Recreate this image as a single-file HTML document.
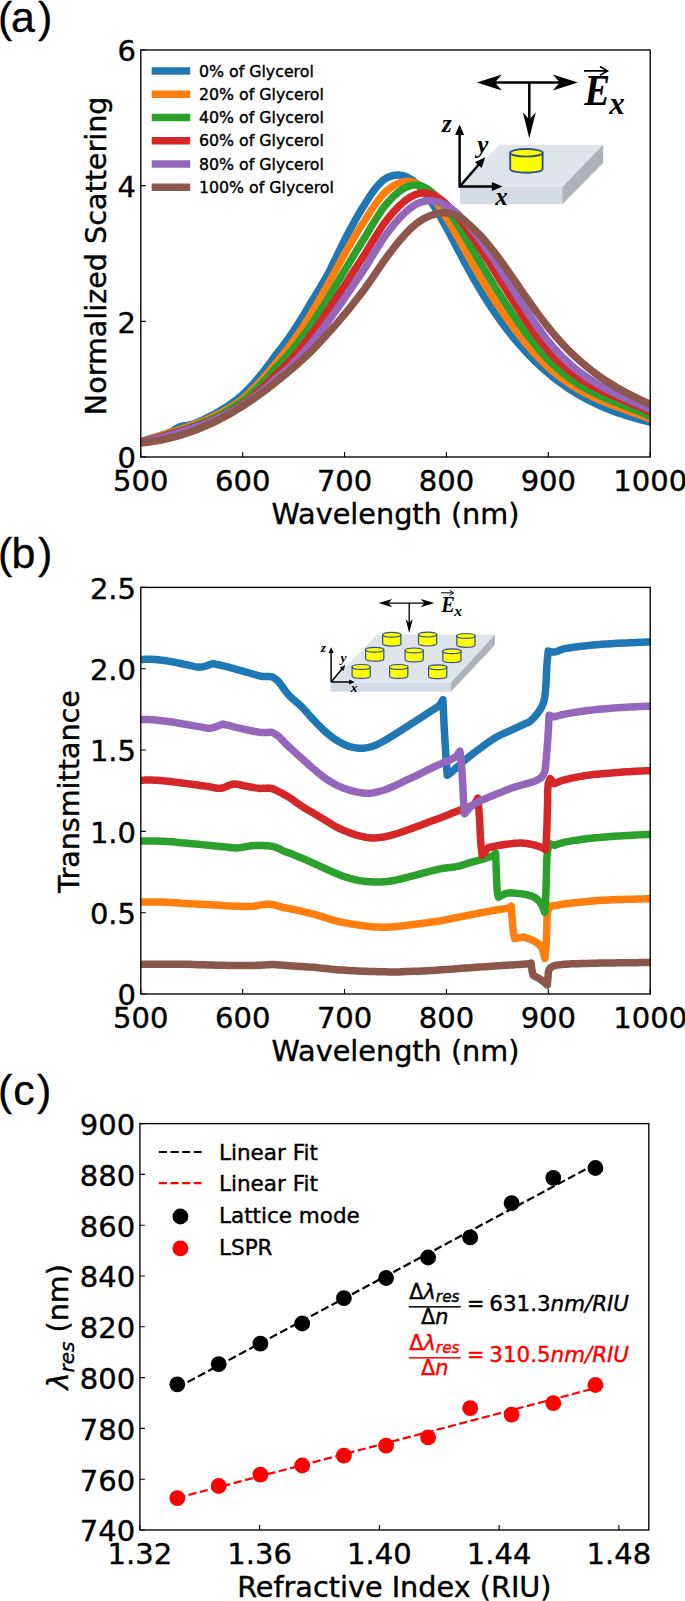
<!DOCTYPE html>
<html lang="en">
<head>
<meta charset="utf-8">
<title>Figure: scattering, transmittance and resonance shift</title>
<style>
html,body{margin:0;padding:0;background:#fff;}
body{width:685px;height:1601px;overflow:hidden;}
svg{display:block;}
.dj{font-family:"DejaVu Sans","Liberation Sans",sans-serif;stroke:#000;stroke-width:0.4px;stroke-linejoin:round;}
.rd,.rd .dj{stroke:#f00;}
.ar{font-family:"Liberation Sans",Arial,sans-serif;stroke:#000;stroke-width:0.3px;}
.bi{font-family:"Liberation Serif","DejaVu Serif",serif;font-weight:bold;font-style:italic;}
</style>
</head>
<body>
<svg width="685" height="1601" viewBox="0 0 685 1601">
<rect width="685" height="1601" fill="#fff"/>
<g id="panel-a">
<clipPath id="clipA"><rect x="140.8" y="50" width="509.4" height="407"/></clipPath>
<g clip-path="url(#clipA)" fill="none" stroke-width="7.5" stroke-linejoin="round" stroke-linecap="butt">
<path d="M134.69 443.97 L136.72 443.26 L138.76 442.56 L140.8 441.86 L142.84 441.18 L144.88 440.51 L146.91 439.85 L148.95 439.19 L150.99 438.53 L153.03 437.89 L155.06 437.24 L157.1 436.6 L159.14 435.95 L161.18 435.3 L163.21 434.65 L165.25 433.98 L167.29 433.27 L169.33 432.48 L171.36 431.56 L173.4 430.46 L175.44 429.23 L177.48 427.99 L179.51 426.93 L181.55 426.21 L183.59 425.82 L185.63 425.61 L187.66 425.4 L189.7 425.03 L191.74 424.49 L193.78 423.79 L195.82 423 L197.85 422.15 L199.89 421.26 L201.93 420.34 L203.97 419.4 L206 418.42 L208.04 417.42 L210.08 416.39 L212.12 415.32 L214.15 414.23 L216.19 413.1 L218.23 411.93 L220.27 410.73 L222.3 409.49 L224.34 408.21 L226.38 406.89 L228.42 405.53 L230.45 404.13 L232.49 402.68 L234.53 401.19 L236.57 399.66 L238.6 398.07 L240.64 396.44 L242.68 394.75 L244.72 392.74 L246.76 390.68 L248.79 388.56 L250.83 386.39 L252.87 384.16 L254.91 381.87 L256.94 379.53 L258.98 377.13 L261.02 374.66 L263.06 372.14 L265.09 369.55 L267.13 366.89 L269.17 364.17 L271.21 361.39 L273.24 358.53 L275.28 355.68 L277.32 353.2 L279.36 350.65 L281.39 348.03 L283.43 345.33 L285.47 342.55 L287.51 339.7 L289.54 336.77 L291.58 333.77 L293.62 330.73 L295.66 327.63 L297.7 324.47 L299.73 321.24 L301.77 317.96 L303.81 314.63 L305.85 311.25 L307.88 307.81 L309.92 304.34 L311.96 301.04 L314 297.72 L316.03 294.36 L318.07 290.97 L320.11 287.56 L322.15 284.11 L324.18 280.64 L326.22 277.16 L328.26 273.43 L330.3 269.28 L332.33 265.12 L334.37 260.95 L336.41 256.77 L338.45 252.6 L340.48 248.43 L342.52 244.29 L344.56 240.17 L346.6 236.21 L348.64 232.3 L350.67 228.45 L352.71 224.67 L354.75 220.97 L356.79 217.36 L358.82 213.86 L360.86 210.46 L362.9 207.2 L364.94 204.06 L366.97 200.69 L369.01 197.48 L371.05 194.43 L373.09 191.56 L375.12 188.87 L377.16 186.38 L379.2 184.09 L381.24 181.99 L383.27 180.1 L385.31 178.77 L387.35 177.65 L389.39 176.72 L391.42 176 L393.46 175.47 L395.5 175.15 L397.54 175.03 L399.58 175.11 L401.61 175.39 L403.65 175.87 L405.69 176.56 L407.73 177.45 L409.76 178.55 L411.8 179.85 L413.84 181.35 L415.88 183.06 L417.91 184.98 L419.95 187.09 L421.99 189.39 L424.03 191.86 L426.06 194.5 L428.1 197.3 L430.14 200.24 L432.18 203.31 L434.21 206.51 L436.25 209.82 L438.29 213.24 L440.33 216.75 L442.36 220.35 L444.4 224.01 L446.44 227.75 L448.48 231.53 L450.52 235.36 L452.55 239.22 L454.59 243.1 L456.63 247 L458.67 250.9 L460.7 254.79 L462.74 258.66 L464.78 262.5 L466.82 266.31 L468.85 270.06 L470.89 273.76 L472.93 277.39 L474.97 280.96 L477 284.48 L479.04 287.92 L481.08 291.31 L483.12 294.64 L485.15 297.91 L487.19 301.12 L489.23 304.28 L491.27 307.37 L493.3 310.41 L495.34 313.4 L497.38 316.32 L499.42 319.2 L501.46 322.02 L503.49 324.78 L505.53 327.49 L507.57 330.15 L509.61 332.76 L511.64 335.31 L513.68 337.82 L515.72 340.28 L517.76 342.68 L519.79 345.04 L521.83 347.35 L523.87 349.61 L525.91 351.82 L527.94 353.99 L529.98 356.11 L532.02 358.19 L534.06 360.22 L536.09 362.21 L538.13 364.16 L540.17 366.06 L542.21 367.92 L544.24 369.74 L546.28 371.51 L548.32 373.25 L550.36 374.95 L552.4 376.61 L554.43 378.23 L556.47 379.81 L558.51 381.35 L560.55 382.86 L562.58 384.33 L564.62 385.77 L566.66 387.17 L568.7 388.54 L570.73 389.87 L572.77 391.17 L574.81 392.44 L576.85 393.68 L578.88 394.88 L580.92 396.06 L582.96 397.2 L585 398.32 L587.03 399.4 L589.07 400.46 L591.11 401.49 L593.15 402.5 L595.18 403.47 L597.22 404.43 L599.26 405.35 L601.3 406.25 L603.34 407.13 L605.37 407.99 L607.41 408.82 L609.45 409.63 L611.49 410.42 L613.52 411.18 L615.56 411.93 L617.6 412.66 L619.64 413.37 L621.67 414.06 L623.71 414.73 L625.75 415.39 L627.79 416.02 L629.82 416.65 L631.86 417.25 L633.9 417.84 L635.94 418.42 L637.97 418.99 L640.01 419.54 L642.05 420.08 L644.09 420.6 L646.12 421.12 L648.16 421.63 L650.2 422.12 L652.24 422.61 L654.28 423.09 L656.31 423.56 L656.31 423.56" stroke="#1f77b4"/>
<path d="M134.69 444.51 L136.72 443.74 L138.76 442.98 L140.8 442.24 L142.84 441.52 L144.88 440.81 L146.91 440.12 L148.95 439.44 L150.99 438.76 L153.03 438.1 L155.06 437.45 L157.1 436.8 L159.14 436.16 L161.18 435.52 L163.21 434.88 L165.25 434.25 L167.29 433.61 L169.33 432.98 L171.36 432.34 L173.4 431.7 L175.44 431.05 L177.48 430.4 L179.51 429.75 L181.55 429.08 L183.59 428.4 L185.63 427.71 L187.66 427.01 L189.7 426.3 L191.74 425.57 L193.78 424.83 L195.82 424.07 L197.85 423.29 L199.89 422.49 L201.93 421.66 L203.97 420.82 L206 419.95 L208.04 419.06 L210.08 418.14 L212.12 417.2 L214.15 416.22 L216.19 415.22 L218.23 414.18 L220.27 413.11 L222.3 412.01 L224.34 410.87 L226.38 409.7 L228.42 408.49 L230.45 407.24 L232.49 405.95 L234.53 404.62 L236.57 403.24 L238.6 401.82 L240.64 400.36 L242.68 398.85 L244.72 397.06 L246.76 395.22 L248.79 393.32 L250.83 391.38 L252.87 389.38 L254.91 387.33 L256.94 385.23 L258.98 383.07 L261.02 380.85 L263.06 378.57 L265.09 376.23 L267.13 373.83 L269.17 371.36 L271.21 368.83 L273.24 366.24 L275.28 363.65 L277.32 361.39 L279.36 359.07 L281.39 356.67 L283.43 354.2 L285.47 351.66 L287.51 349.05 L289.54 346.36 L291.58 343.59 L293.62 340.78 L295.66 337.91 L297.7 334.96 L299.73 331.93 L301.77 328.84 L303.81 325.68 L305.85 322.46 L307.88 319.19 L309.92 315.86 L311.96 312.46 L314 309.02 L316.03 305.54 L318.07 302.04 L320.11 298.51 L322.15 294.96 L324.18 291.39 L326.22 287.81 L328.26 284.16 L330.3 280.36 L332.33 276.56 L334.37 272.78 L336.41 269.01 L338.45 265.26 L340.48 261.54 L342.52 257.85 L344.56 254.19 L346.6 250.54 L348.64 246.93 L350.67 243.37 L352.71 239.86 L354.75 236.42 L356.79 233.04 L358.82 229.74 L360.86 226.51 L362.9 223.36 L364.94 220.29 L366.97 216.94 L369.01 213.69 L371.05 210.54 L373.09 207.49 L375.12 204.55 L377.16 201.73 L379.2 199.04 L381.24 196.47 L383.27 194.03 L385.31 192.1 L387.35 190.32 L389.39 188.69 L391.42 187.2 L393.46 185.88 L395.5 184.72 L397.54 183.73 L399.58 182.91 L401.61 182.28 L403.65 181.82 L405.69 181.56 L407.73 181.49 L409.76 181.63 L411.8 181.96 L413.84 182.51 L415.88 183.28 L417.91 184.26 L419.95 185.48 L421.99 186.91 L424.03 188.56 L426.06 190.41 L428.1 192.45 L430.14 194.67 L432.18 197.06 L434.21 199.61 L436.25 202.31 L438.29 205.14 L440.33 208.1 L442.36 211.18 L444.4 214.37 L446.44 217.65 L448.48 221.02 L450.52 224.47 L452.55 227.97 L454.59 231.53 L456.63 235.14 L458.67 238.77 L460.7 242.43 L462.74 246.1 L464.78 249.78 L466.82 253.44 L468.85 257.08 L470.89 260.69 L472.93 264.27 L474.97 267.81 L477 271.32 L479.04 274.79 L481.08 278.22 L483.12 281.62 L485.15 284.97 L487.19 288.29 L489.23 291.57 L491.27 294.81 L493.3 298.01 L495.34 301.17 L497.38 304.29 L499.42 307.36 L501.46 310.39 L503.49 313.38 L505.53 316.33 L507.57 319.23 L509.61 322.09 L511.64 324.9 L513.68 327.66 L515.72 330.38 L517.76 333.05 L519.79 335.68 L521.83 338.25 L523.87 340.78 L525.91 343.25 L527.94 345.68 L529.98 348.06 L532.02 350.38 L534.06 352.66 L536.09 354.88 L538.13 357.05 L540.17 359.16 L542.21 361.22 L544.24 363.23 L546.28 365.18 L548.32 367.08 L550.36 368.92 L552.4 370.7 L554.43 372.43 L556.47 374.11 L558.51 375.74 L560.55 377.32 L562.58 378.85 L564.62 380.34 L566.66 381.78 L568.7 383.17 L570.73 384.53 L572.77 385.84 L574.81 387.11 L576.85 388.34 L578.88 389.54 L580.92 390.7 L582.96 391.83 L585 392.92 L587.03 393.99 L589.07 395.02 L591.11 396.02 L593.15 397 L595.18 397.95 L597.22 398.87 L599.26 399.77 L601.3 400.65 L603.34 401.51 L605.37 402.35 L607.41 403.18 L609.45 403.98 L611.49 404.77 L613.52 405.55 L615.56 406.31 L617.6 407.07 L619.64 407.81 L621.67 408.55 L623.71 409.28 L625.75 410 L627.79 410.72 L629.82 411.44 L631.86 412.15 L633.9 412.87 L635.94 413.58 L637.97 414.3 L640.01 415.02 L642.05 415.75 L644.09 416.49 L646.12 417.23 L648.16 417.99 L650.2 418.75 L652.24 419.53 L654.28 420.32 L656.31 421.12 L656.31 421.12" stroke="#ff7f0e"/>
<path d="M134.69 443.83 L136.72 443.25 L138.76 442.67 L140.8 442.1 L142.84 441.53 L144.88 440.97 L146.91 440.41 L148.95 439.86 L150.99 439.3 L153.03 438.75 L155.06 438.19 L157.1 437.64 L159.14 437.08 L161.18 436.52 L163.21 435.95 L165.25 435.38 L167.29 434.81 L169.33 434.23 L171.36 433.64 L173.4 433.04 L175.44 432.43 L177.48 431.81 L179.51 431.18 L181.55 430.54 L183.59 429.89 L185.63 429.22 L187.66 428.53 L189.7 427.83 L191.74 427.11 L193.78 426.38 L195.82 425.63 L197.85 424.85 L199.89 424.06 L201.93 423.24 L203.97 422.4 L206 421.54 L208.04 420.66 L210.08 419.75 L212.12 418.81 L214.15 417.84 L216.19 416.85 L218.23 415.83 L220.27 414.78 L222.3 413.7 L224.34 412.59 L226.38 411.44 L228.42 410.26 L230.45 409.05 L232.49 407.8 L234.53 406.51 L236.57 405.19 L238.6 403.83 L240.64 402.43 L242.68 400.99 L244.72 399.29 L246.76 397.55 L248.79 395.77 L250.83 393.95 L252.87 392.08 L254.91 390.17 L256.94 388.21 L258.98 386.2 L261.02 384.15 L263.06 382.04 L265.09 379.89 L267.13 377.68 L269.17 375.42 L271.21 373.11 L273.24 370.75 L275.28 368.39 L277.32 366.37 L279.36 364.29 L281.39 362.15 L283.43 359.95 L285.47 357.69 L287.51 355.38 L289.54 353 L291.58 350.56 L293.62 348.1 L295.66 345.61 L297.7 343.05 L299.73 340.44 L301.77 337.77 L303.81 335.04 L305.85 332.26 L307.88 329.43 L309.92 326.56 L311.96 323.53 L314 320.46 L316.03 317.35 L318.07 314.21 L320.11 311.04 L322.15 307.85 L324.18 304.63 L326.22 301.4 L328.26 298.09 L330.3 294.67 L332.33 291.24 L334.37 287.8 L336.41 284.37 L338.45 280.93 L340.48 277.49 L342.52 274.07 L344.56 270.65 L346.6 267.2 L348.64 263.78 L350.67 260.37 L352.71 256.98 L354.75 253.63 L356.79 250.3 L358.82 247 L360.86 243.75 L362.9 240.53 L364.94 237.35 L366.97 233.85 L369.01 230.39 L371.05 226.98 L373.09 223.63 L375.12 220.35 L377.16 217.12 L379.2 213.96 L381.24 210.89 L383.27 207.9 L385.31 205.39 L387.35 202.98 L389.39 200.69 L391.42 198.51 L393.46 196.47 L395.5 194.57 L397.54 192.81 L399.58 191.22 L401.61 189.78 L403.65 188.52 L405.69 187.44 L407.73 186.55 L409.76 185.86 L411.8 185.38 L413.84 185.11 L415.88 185.07 L417.91 185.25 L419.95 185.67 L421.99 186.3 L424.03 187.14 L426.06 188.18 L428.1 189.42 L430.14 190.84 L432.18 192.45 L434.21 194.23 L436.25 196.17 L438.29 198.28 L440.33 200.53 L442.36 202.93 L444.4 205.46 L446.44 208.12 L448.48 210.91 L450.52 213.8 L452.55 216.8 L454.59 219.9 L456.63 223.09 L458.67 226.34 L460.7 229.66 L462.74 233.03 L464.78 236.44 L466.82 239.87 L468.85 243.32 L470.89 246.76 L472.93 250.21 L474.97 253.65 L477 257.08 L479.04 260.5 L481.08 263.91 L483.12 267.31 L485.15 270.7 L487.19 274.07 L489.23 277.43 L491.27 280.77 L493.3 284.08 L495.34 287.38 L497.38 290.65 L499.42 293.89 L501.46 297.11 L503.49 300.3 L505.53 303.46 L507.57 306.58 L509.61 309.68 L511.64 312.73 L513.68 315.75 L515.72 318.73 L517.76 321.67 L519.79 324.57 L521.83 327.42 L523.87 330.23 L525.91 332.99 L527.94 335.7 L529.98 338.36 L532.02 340.96 L534.06 343.51 L536.09 346.01 L538.13 348.45 L540.17 350.83 L542.21 353.15 L544.24 355.4 L546.28 357.59 L548.32 359.72 L550.36 361.77 L552.4 363.76 L554.43 365.69 L556.47 367.55 L558.51 369.36 L560.55 371.1 L562.58 372.79 L564.62 374.42 L566.66 375.99 L568.7 377.52 L570.73 378.99 L572.77 380.42 L574.81 381.8 L576.85 383.13 L578.88 384.43 L580.92 385.68 L582.96 386.89 L585 388.06 L587.03 389.19 L589.07 390.3 L591.11 391.37 L593.15 392.4 L595.18 393.41 L597.22 394.4 L599.26 395.35 L601.3 396.29 L603.34 397.2 L605.37 398.09 L607.41 398.96 L609.45 399.82 L611.49 400.66 L613.52 401.49 L615.56 402.3 L617.6 403.11 L619.64 403.91 L621.67 404.7 L623.71 405.49 L625.75 406.27 L627.79 407.06 L629.82 407.85 L631.86 408.63 L633.9 409.43 L635.94 410.23 L637.97 411.04 L640.01 411.85 L642.05 412.68 L644.09 413.53 L646.12 414.38 L648.16 415.26 L650.2 416.15 L652.24 417.07 L654.28 418 L656.31 418.96 L656.31 418.96" stroke="#2ca02c"/>
<path d="M134.69 444.33 L136.72 443.71 L138.76 443.1 L140.8 442.5 L142.84 441.91 L144.88 441.33 L146.91 440.75 L148.95 440.18 L150.99 439.61 L153.03 439.05 L155.06 438.49 L157.1 437.93 L159.14 437.37 L161.18 436.82 L163.21 436.26 L165.25 435.7 L167.29 435.13 L169.33 434.57 L171.36 434 L173.4 433.42 L175.44 432.84 L177.48 432.25 L179.51 431.65 L181.55 431.04 L183.59 430.42 L185.63 429.8 L187.66 429.16 L189.7 428.51 L191.74 427.84 L193.78 427.16 L195.82 426.47 L197.85 425.75 L199.89 425.03 L201.93 424.28 L203.97 423.52 L206 422.73 L208.04 421.93 L210.08 421.1 L212.12 420.25 L214.15 419.38 L216.19 418.48 L218.23 417.56 L220.27 416.61 L222.3 415.64 L224.34 414.64 L226.38 413.61 L228.42 412.55 L230.45 411.46 L232.49 410.33 L234.53 409.18 L236.57 407.99 L238.6 406.77 L240.64 405.51 L242.68 404.22 L244.72 402.72 L246.76 401.18 L248.79 399.6 L250.83 397.99 L252.87 396.33 L254.91 394.63 L256.94 392.89 L258.98 391.11 L261.02 389.28 L263.06 387.41 L265.09 385.49 L267.13 383.53 L269.17 381.52 L271.21 379.46 L273.24 377.35 L275.28 375.25 L277.32 373.43 L279.36 371.56 L281.39 369.63 L283.43 367.66 L285.47 365.63 L287.51 363.54 L289.54 361.39 L291.58 359.19 L293.62 356.91 L295.66 354.56 L297.7 352.15 L299.73 349.69 L301.77 347.17 L303.81 344.59 L305.85 341.97 L307.88 339.3 L309.92 336.59 L311.96 333.79 L314 330.95 L316.03 328.08 L318.07 325.17 L320.11 322.23 L322.15 319.26 L324.18 316.27 L326.22 313.26 L328.26 310.23 L330.3 307.2 L332.33 304.15 L334.37 301.1 L336.41 298.03 L338.45 294.96 L340.48 291.88 L342.52 288.8 L344.56 285.73 L346.6 282.49 L348.64 279.26 L350.67 276.04 L352.71 272.84 L354.75 269.64 L356.79 266.47 L358.82 263.31 L360.86 260.18 L362.9 257.08 L364.94 254 L366.97 250.57 L369.01 247.18 L371.05 243.82 L373.09 240.51 L375.12 237.23 L377.16 234 L379.2 230.82 L381.24 227.68 L383.27 224.6 L385.31 221.95 L387.35 219.36 L389.39 216.85 L391.42 214.42 L393.46 212.08 L395.5 209.83 L397.54 207.69 L399.58 205.66 L401.61 203.75 L403.65 201.97 L405.69 200.32 L407.73 198.82 L409.76 197.47 L411.8 196.28 L413.84 195.26 L415.88 194.41 L417.91 193.74 L419.95 193.27 L421.99 192.99 L424.03 192.92 L426.06 193.06 L428.1 193.4 L430.14 193.93 L432.18 194.65 L434.21 195.55 L436.25 196.62 L438.29 197.86 L440.33 199.26 L442.36 200.81 L444.4 202.5 L446.44 204.33 L448.48 206.3 L450.52 208.38 L452.55 210.58 L454.59 212.89 L456.63 215.3 L458.67 217.81 L460.7 220.4 L462.74 223.08 L464.78 225.83 L466.82 228.64 L468.85 231.52 L470.89 234.44 L472.93 237.42 L474.97 240.44 L477 243.5 L479.04 246.6 L481.08 249.73 L483.12 252.89 L485.15 256.09 L487.19 259.3 L489.23 262.54 L491.27 265.79 L493.3 269.06 L495.34 272.34 L497.38 275.63 L499.42 278.92 L501.46 282.21 L503.49 285.5 L505.53 288.78 L507.57 292.05 L509.61 295.32 L511.64 298.56 L513.68 301.79 L515.72 304.99 L517.76 308.16 L519.79 311.31 L521.83 314.43 L523.87 317.5 L525.91 320.54 L527.94 323.54 L529.98 326.49 L532.02 329.39 L534.06 332.23 L536.09 335.02 L538.13 337.75 L540.17 340.42 L542.21 343.02 L544.24 345.55 L546.28 348.01 L548.32 350.39 L550.36 352.69 L552.4 354.91 L554.43 357.06 L556.47 359.13 L558.51 361.14 L560.55 363.07 L562.58 364.94 L564.62 366.74 L566.66 368.48 L568.7 370.16 L570.73 371.77 L572.77 373.34 L574.81 374.85 L576.85 376.3 L578.88 377.71 L580.92 379.06 L582.96 380.38 L585 381.64 L587.03 382.87 L589.07 384.06 L591.11 385.21 L593.15 386.32 L595.18 387.4 L597.22 388.45 L599.26 389.47 L601.3 390.47 L603.34 391.44 L605.37 392.39 L607.41 393.31 L609.45 394.22 L611.49 395.12 L613.52 395.99 L615.56 396.86 L617.6 397.72 L619.64 398.57 L621.67 399.41 L623.71 400.25 L625.75 401.09 L627.79 401.93 L629.82 402.78 L631.86 403.63 L633.9 404.48 L635.94 405.35 L637.97 406.23 L640.01 407.12 L642.05 408.03 L644.09 408.95 L646.12 409.9 L648.16 410.86 L650.2 411.86 L652.24 412.87 L654.28 413.92 L656.31 415 L656.31 415" stroke="#d62728"/>
<path d="M134.69 444.58 L136.72 444.04 L138.76 443.5 L140.8 442.97 L142.84 442.43 L144.88 441.9 L146.91 441.37 L148.95 440.84 L150.99 440.31 L153.03 439.78 L155.06 439.24 L157.1 438.71 L159.14 438.17 L161.18 437.62 L163.21 437.08 L165.25 436.52 L167.29 435.96 L169.33 435.4 L171.36 434.83 L173.4 434.25 L175.44 433.66 L177.48 433.06 L179.51 432.45 L181.55 431.83 L183.59 431.2 L185.63 430.56 L187.66 429.91 L189.7 429.24 L191.74 428.56 L193.78 427.86 L195.82 427.15 L197.85 426.43 L199.89 425.69 L201.93 424.93 L203.97 424.15 L206 423.35 L208.04 422.54 L210.08 421.7 L212.12 420.85 L214.15 419.97 L216.19 419.07 L218.23 418.15 L220.27 417.2 L222.3 416.24 L224.34 415.24 L226.38 414.23 L228.42 413.18 L230.45 412.11 L232.49 411.02 L234.53 409.89 L236.57 408.74 L238.6 407.56 L240.64 406.34 L242.68 405.1 L244.72 403.74 L246.76 402.35 L248.79 400.93 L250.83 399.47 L252.87 397.98 L254.91 396.45 L256.94 394.89 L258.98 393.3 L261.02 391.66 L263.06 390 L265.09 388.29 L267.13 386.54 L269.17 384.76 L271.21 382.93 L273.24 381.07 L275.28 379.21 L277.32 377.6 L279.36 375.95 L281.39 374.25 L283.43 372.51 L285.47 370.73 L287.51 368.9 L289.54 367.02 L291.58 365.1 L293.62 363.07 L295.66 360.95 L297.7 358.77 L299.73 356.55 L301.77 354.29 L303.81 351.98 L305.85 349.63 L307.88 347.24 L309.92 344.81 L311.96 342.32 L314 339.79 L316.03 337.24 L318.07 334.65 L320.11 332.03 L322.15 329.38 L324.18 326.7 L326.22 324 L328.26 321.25 L330.3 318.42 L332.33 315.58 L334.37 312.71 L336.41 309.83 L338.45 306.94 L340.48 304.03 L342.52 301.1 L344.56 298.17 L346.6 295.19 L348.64 292.2 L350.67 289.2 L352.71 286.2 L354.75 283.19 L356.79 280.19 L358.82 277.19 L360.86 274.18 L362.9 271.19 L364.94 268.19 L366.97 264.83 L369.01 261.48 L371.05 258.14 L373.09 254.81 L375.12 251.49 L377.16 248.19 L379.2 244.91 L381.24 241.66 L383.27 238.45 L385.31 235.67 L387.35 232.93 L389.39 230.26 L391.42 227.66 L393.46 225.13 L395.5 222.68 L397.54 220.32 L399.58 218.07 L401.61 215.91 L403.65 213.87 L405.69 211.95 L407.73 210.16 L409.76 208.51 L411.8 206.99 L413.84 205.63 L415.88 204.43 L417.91 203.39 L419.95 202.52 L421.99 201.83 L424.03 201.3 L426.06 200.95 L428.1 200.75 L430.14 200.72 L432.18 200.84 L434.21 201.11 L436.25 201.53 L438.29 202.1 L440.33 202.8 L442.36 203.65 L444.4 204.62 L446.44 205.73 L448.48 206.96 L450.52 208.32 L452.55 209.8 L454.59 211.39 L456.63 213.09 L458.67 214.91 L460.7 216.82 L462.74 218.84 L464.78 220.95 L466.82 223.16 L468.85 225.46 L470.89 227.85 L472.93 230.32 L474.97 232.86 L477 235.48 L479.04 238.17 L481.08 240.93 L483.12 243.75 L485.15 246.62 L487.19 249.55 L489.23 252.53 L491.27 255.55 L493.3 258.61 L495.34 261.71 L497.38 264.84 L499.42 268 L501.46 271.18 L503.49 274.38 L505.53 277.6 L507.57 280.83 L509.61 284.06 L511.64 287.3 L513.68 290.54 L515.72 293.77 L517.76 296.99 L519.79 300.19 L521.83 303.38 L523.87 306.55 L525.91 309.68 L527.94 312.79 L529.98 315.86 L532.02 318.9 L534.06 321.89 L536.09 324.83 L538.13 327.72 L540.17 330.55 L542.21 333.32 L544.24 336.03 L546.28 338.67 L548.32 341.24 L550.36 343.73 L552.4 346.14 L554.43 348.49 L556.47 350.76 L558.51 352.96 L560.55 355.09 L562.58 357.15 L564.62 359.15 L566.66 361.09 L568.7 362.97 L570.73 364.79 L572.77 366.55 L574.81 368.26 L576.85 369.91 L578.88 371.51 L580.92 373.06 L582.96 374.57 L585 376.02 L587.03 377.44 L589.07 378.81 L591.11 380.13 L593.15 381.43 L595.18 382.68 L597.22 383.9 L599.26 385.08 L601.3 386.23 L603.34 387.36 L605.37 388.45 L607.41 389.52 L609.45 390.57 L611.49 391.59 L613.52 392.59 L615.56 393.57 L617.6 394.54 L619.64 395.49 L621.67 396.43 L623.71 397.35 L625.75 398.27 L627.79 399.18 L629.82 400.08 L631.86 400.98 L633.9 401.87 L635.94 402.77 L637.97 403.66 L640.01 404.56 L642.05 405.46 L644.09 406.37 L646.12 407.29 L648.16 408.22 L650.2 409.16 L652.24 410.12 L654.28 411.09 L656.31 412.08 L656.31 412.08" stroke="#9467bd"/>
<path d="M134.69 443.29 L136.72 443.16 L138.76 443.01 L140.8 442.85 L142.84 442.65 L144.88 442.44 L146.91 442.21 L148.95 441.95 L150.99 441.67 L153.03 441.37 L155.06 441.05 L157.1 440.7 L159.14 440.34 L161.18 439.95 L163.21 439.54 L165.25 439.1 L167.29 438.65 L169.33 438.17 L171.36 437.67 L173.4 437.15 L175.44 436.61 L177.48 436.04 L179.51 435.45 L181.55 434.84 L183.59 434.21 L185.63 433.55 L187.66 432.88 L189.7 432.18 L191.74 431.46 L193.78 430.71 L195.82 429.95 L197.85 429.16 L199.89 428.35 L201.93 427.51 L203.97 426.66 L206 425.78 L208.04 424.88 L210.08 423.95 L212.12 423.01 L214.15 422.04 L216.19 421.05 L218.23 420.04 L220.27 419 L222.3 417.94 L224.34 416.86 L226.38 415.76 L228.42 414.63 L230.45 413.48 L232.49 412.31 L234.53 411.12 L236.57 409.9 L238.6 408.66 L240.64 407.4 L242.68 406.12 L244.72 404.81 L246.76 403.48 L248.79 402.12 L250.83 400.75 L252.87 399.35 L254.91 397.93 L256.94 396.48 L258.98 395.02 L261.02 393.53 L263.06 392.01 L265.09 390.48 L267.13 388.92 L269.17 387.34 L271.21 385.73 L273.24 384.11 L275.28 382.47 L277.32 380.89 L279.36 379.29 L281.39 377.66 L283.43 376.02 L285.47 374.34 L287.51 372.65 L289.54 370.93 L291.58 369.19 L293.62 367.43 L295.66 365.65 L297.7 363.85 L299.73 362.03 L301.77 360.18 L303.81 358.31 L305.85 356.41 L307.88 354.49 L309.92 352.55 L311.96 350.49 L314 348.4 L316.03 346.29 L318.07 344.15 L320.11 341.99 L322.15 339.81 L324.18 337.6 L326.22 335.37 L328.26 333.11 L330.3 330.84 L332.33 328.53 L334.37 326.21 L336.41 323.86 L338.45 321.49 L340.48 319.1 L342.52 316.68 L344.56 314.24 L346.6 311.77 L348.64 309.28 L350.67 306.77 L352.71 304.23 L354.75 301.67 L356.79 299.09 L358.82 296.48 L360.86 293.85 L362.9 291.19 L364.94 288.52 L366.97 285.63 L369.01 282.71 L371.05 279.77 L373.09 276.81 L375.12 273.83 L377.16 270.84 L379.2 267.84 L381.24 264.84 L383.27 261.86 L385.31 259.07 L387.35 256.32 L389.39 253.59 L391.42 250.9 L393.46 248.25 L395.5 245.65 L397.54 243.12 L399.58 240.65 L401.61 238.25 L403.65 235.93 L405.69 233.7 L407.73 231.56 L409.76 229.52 L411.8 227.6 L413.84 225.78 L415.88 224.09 L417.91 222.52 L419.95 221.08 L421.99 219.77 L424.03 218.59 L426.06 217.53 L428.1 216.58 L430.14 215.74 L432.18 215 L434.21 214.37 L436.25 213.82 L438.29 213.38 L440.33 213.05 L442.36 212.83 L444.4 212.74 L446.44 212.8 L448.48 213.03 L450.52 213.43 L452.55 214.02 L454.59 214.79 L456.63 215.75 L458.67 216.87 L460.7 218.15 L462.74 219.57 L464.78 221.11 L466.82 222.74 L468.85 224.46 L470.89 226.26 L472.93 228.14 L474.97 230.08 L477 232.09 L479.04 234.18 L481.08 236.35 L483.12 238.59 L485.15 240.91 L487.19 243.31 L489.23 245.78 L491.27 248.33 L493.3 250.93 L495.34 253.59 L497.38 256.31 L499.42 259.07 L501.46 261.88 L503.49 264.72 L505.53 267.59 L507.57 270.49 L509.61 273.4 L511.64 276.33 L513.68 279.27 L515.72 282.22 L517.76 285.17 L519.79 288.13 L521.83 291.08 L523.87 294.02 L525.91 296.95 L527.94 299.87 L529.98 302.77 L532.02 305.65 L534.06 308.5 L536.09 311.33 L538.13 314.12 L540.17 316.87 L542.21 319.59 L544.24 322.26 L546.28 324.88 L548.32 327.45 L550.36 329.97 L552.4 332.43 L554.43 334.84 L556.47 337.2 L558.51 339.51 L560.55 341.76 L562.58 343.97 L564.62 346.13 L566.66 348.24 L568.7 350.3 L570.73 352.32 L572.77 354.29 L574.81 356.21 L576.85 358.1 L578.88 359.94 L580.92 361.73 L582.96 363.49 L585 365.21 L587.03 366.88 L589.07 368.52 L591.11 370.13 L593.15 371.69 L595.18 373.22 L597.22 374.72 L599.26 376.18 L601.3 377.6 L603.34 379 L605.37 380.36 L607.41 381.7 L609.45 383 L611.49 384.27 L613.52 385.52 L615.56 386.74 L617.6 387.93 L619.64 389.1 L621.67 390.25 L623.71 391.37 L625.75 392.47 L627.79 393.54 L629.82 394.6 L631.86 395.63 L633.9 396.65 L635.94 397.65 L637.97 398.63 L640.01 399.59 L642.05 400.54 L644.09 401.47 L646.12 402.39 L648.16 403.3 L650.2 404.19 L652.24 405.08 L654.28 405.95 L656.31 406.81 L656.31 406.81" stroke="#8c564b"/>
</g>
<path d="M140.8 457 v-5 M242.68 457 v-5 M344.56 457 v-5 M446.44 457 v-5 M548.32 457 v-5 M650.2 457 v-5 M140.8 457 h5 M140.8 321.33 h5 M140.8 185.67 h5 M140.8 50 h5" stroke="#000" stroke-width="1.1" fill="none"/>
<rect x="140.8" y="50" width="509.4" height="407" fill="none" stroke="#000" stroke-width="1.35"/>
<text x="140.8" y="490.5" font-size="29" text-anchor="middle" class="dj">500</text>
<text x="242.68" y="490.5" font-size="29" text-anchor="middle" class="dj">600</text>
<text x="344.56" y="490.5" font-size="29" text-anchor="middle" class="dj">700</text>
<text x="446.44" y="490.5" font-size="29" text-anchor="middle" class="dj">800</text>
<text x="548.32" y="490.5" font-size="29" text-anchor="middle" class="dj">900</text>
<text x="650.2" y="490.5" font-size="29" text-anchor="middle" class="dj">1000</text>
<text x="136" y="468.4" font-size="29" text-anchor="end" class="dj">0</text>
<text x="136" y="332.73" font-size="29" text-anchor="end" class="dj">2</text>
<text x="136" y="197.07" font-size="29" text-anchor="end" class="dj">4</text>
<text x="136" y="61.4" font-size="29" text-anchor="end" class="dj">6</text>
<text x="395.5" y="524" font-size="28.7" text-anchor="middle" class="dj">Wavelength (nm)</text>
<text transform="translate(105.9 255.9) rotate(-90)" font-size="28.6" text-anchor="middle" class="dj">Normalized Scattering</text>
<line x1="151.7" x2="190.2" y1="71.1" y2="71.1" stroke="#1f77b4" stroke-width="7.5"/>
<text x="198.9" y="76.7" font-size="15.8" class="dj">0% of Glycerol</text>
<line x1="151.7" x2="190.2" y1="94.35" y2="94.35" stroke="#ff7f0e" stroke-width="7.5"/>
<text x="198.9" y="99.95" font-size="15.8" class="dj">20% of Glycerol</text>
<line x1="151.7" x2="190.2" y1="117.6" y2="117.6" stroke="#2ca02c" stroke-width="7.5"/>
<text x="198.9" y="123.2" font-size="15.8" class="dj">40% of Glycerol</text>
<line x1="151.7" x2="190.2" y1="140.85" y2="140.85" stroke="#d62728" stroke-width="7.5"/>
<text x="198.9" y="146.45" font-size="15.8" class="dj">60% of Glycerol</text>
<line x1="151.7" x2="190.2" y1="164.1" y2="164.1" stroke="#9467bd" stroke-width="7.5"/>
<text x="198.9" y="169.7" font-size="15.8" class="dj">80% of Glycerol</text>
<line x1="151.7" x2="190.2" y1="187.35" y2="187.35" stroke="#8c564b" stroke-width="7.5"/>
<text x="198.9" y="192.95" font-size="15.8" class="dj">100% of Glycerol</text>
<g id="inset-a">
<path d="M459.9 186.5 L499.4 144.7 L603.2 144.7 L562.4 186.9Z" fill="#dfe3ea"/>
<path d="M459.9 186.5 L562.4 186.9 L562.4 204.2 L459.9 204.2Z" fill="#d5dbe5"/>
<path d="M562.4 186.9 L603.2 144.7 L603.2 162.9 L562.4 204.2Z" fill="#aeb2ba"/>
<path d="M510.2 152.8 v16.1 a16.2 3.8 0 0 0 32.4 0 v-16.1 Z" fill="#ffff00" stroke="#2f5293" stroke-width="1.9"/>
<ellipse cx="526.4" cy="152.8" rx="16.2" ry="3.8" fill="#ffff00" stroke="#2f5293" stroke-width="1.9"/>
<path d="M484 82.6 H571 M529.3 82.6 V128" stroke="#000" stroke-width="2.5" fill="none"/>
<path d="M476.9 82.6 L501.9 74.6 L494.9 82.6 L501.9 90.6Z" fill="#000"/>
<path d="M577.8 82.6 L552.8 90.6 L559.8 82.6 L552.8 74.6Z" fill="#000"/>
<path d="M529.3 138.3 L522.8 112.3 L529.3 119.58 L535.8 112.3Z" fill="#000"/>
<text transform="translate(584.2 105.4) scale(0.89 1)" font-size="43.5" class="bi">E</text>
<text x="609.3" y="113.8" font-size="31" class="bi">x</text>
<path d="M584 70.9 H606 M600 66.5 L607.5 70.9 L600 75.3" stroke="#000" stroke-width="1.6" fill="none"/>
<path d="M459.6 186.6 V133 M458.4 186.6 H494 M459.6 186.6 L479.5 163.8" stroke="#000" stroke-width="2.5" fill="none"/>
<path d="M459.6 124.6 L464.1 135.1 L459.6 135.1 L455.1 135.1Z" fill="#000"/>
<path d="M502.4 186.6 L491.9 191.1 L491.9 186.6 L491.9 182.1Z" fill="#000"/>
<path d="M485.2 157.2 L481.69 168.07 L478.3 165.12 L474.91 162.16Z" fill="#000"/>
<text x="442" y="132" font-size="25" class="bi">z</text>
<text x="477.2" y="152.6" font-size="25" class="bi">y</text>
<text x="495.2" y="205" font-size="25" class="bi">x</text>
</g>
</g>
<g id="panel-b">
<clipPath id="clipB"><rect x="140.8" y="587.4" width="509.4" height="406.6"/></clipPath>
<g id="inset-b">
<path d="M330.5 682.8 L377.1 634.6 L494.9 634.6 L450.9 682.8Z" fill="#dfe3ea"/>
<path d="M330.5 682.8 L450.9 682.8 L450.9 691.8 L330.5 691.8Z" fill="#d5dbe5"/>
<path d="M450.9 682.8 L494.9 634.6 L494.9 645.1 L450.9 691.8Z" fill="#aeb2ba"/>
<path d="M382.7 634.7 v9 a9.1 2.4 0 0 0 18.2 0 v-9 Z" fill="#ffff00" stroke="#2f5293" stroke-width="1.2"/>
<ellipse cx="391.8" cy="634.7" rx="9.1" ry="2.4" fill="#ffff00" stroke="#2f5293" stroke-width="1.2"/>
<path d="M418.5 634.6 v9 a9.1 2.4 0 0 0 18.2 0 v-9 Z" fill="#ffff00" stroke="#2f5293" stroke-width="1.2"/>
<ellipse cx="427.6" cy="634.6" rx="9.1" ry="2.4" fill="#ffff00" stroke="#2f5293" stroke-width="1.2"/>
<path d="M456.8 635.9 v9 a9.1 2.4 0 0 0 18.2 0 v-9 Z" fill="#ffff00" stroke="#2f5293" stroke-width="1.2"/>
<ellipse cx="465.9" cy="635.9" rx="9.1" ry="2.4" fill="#ffff00" stroke="#2f5293" stroke-width="1.2"/>
<path d="M365.6 649.8 v9 a9.1 2.4 0 0 0 18.2 0 v-9 Z" fill="#ffff00" stroke="#2f5293" stroke-width="1.2"/>
<ellipse cx="374.7" cy="649.8" rx="9.1" ry="2.4" fill="#ffff00" stroke="#2f5293" stroke-width="1.2"/>
<path d="M405.1 650.4 v9 a9.1 2.4 0 0 0 18.2 0 v-9 Z" fill="#ffff00" stroke="#2f5293" stroke-width="1.2"/>
<ellipse cx="414.2" cy="650.4" rx="9.1" ry="2.4" fill="#ffff00" stroke="#2f5293" stroke-width="1.2"/>
<path d="M442.8 651.2 v9 a9.1 2.4 0 0 0 18.2 0 v-9 Z" fill="#ffff00" stroke="#2f5293" stroke-width="1.2"/>
<ellipse cx="451.9" cy="651.2" rx="9.1" ry="2.4" fill="#ffff00" stroke="#2f5293" stroke-width="1.2"/>
<path d="M352.1 666.9 v9 a9.1 2.4 0 0 0 18.2 0 v-9 Z" fill="#ffff00" stroke="#2f5293" stroke-width="1.2"/>
<ellipse cx="361.2" cy="666.9" rx="9.1" ry="2.4" fill="#ffff00" stroke="#2f5293" stroke-width="1.2"/>
<path d="M389.6 666.9 v9 a9.1 2.4 0 0 0 18.2 0 v-9 Z" fill="#ffff00" stroke="#2f5293" stroke-width="1.2"/>
<ellipse cx="398.7" cy="666.9" rx="9.1" ry="2.4" fill="#ffff00" stroke="#2f5293" stroke-width="1.2"/>
<path d="M428.6 667.2 v9 a9.1 2.4 0 0 0 18.2 0 v-9 Z" fill="#ffff00" stroke="#2f5293" stroke-width="1.2"/>
<ellipse cx="437.7" cy="667.2" rx="9.1" ry="2.4" fill="#ffff00" stroke="#2f5293" stroke-width="1.2"/>
<path d="M383 603.1 H430 M409.2 603.1 V627" stroke="#000" stroke-width="1.35" fill="none"/>
<path d="M378.7 603.1 L392.2 598.9 L388.42 603.1 L392.2 607.3Z" fill="#000"/>
<path d="M434.2 603.1 L420.7 607.3 L424.48 603.1 L420.7 598.9Z" fill="#000"/>
<path d="M409.2 633 L405.6 619 L409.2 622.92 L412.8 619Z" fill="#000"/>
<text transform="translate(441.2 612.4) scale(0.89 1)" font-size="23" class="bi">E</text>
<text x="454.3" y="615.8" font-size="15.5" class="bi">x</text>
<path d="M441 592.8 H452.5 M449.5 590.3 L453.6 592.8 L449.5 595.3" stroke="#000" stroke-width="1" fill="none"/>
<path d="M331.1 682.1 V650.5 M331.1 682.1 H351 M331.1 682.1 L342.8 668" stroke="#000" stroke-width="1.5" fill="none"/>
<path d="M331.1 647.2 L333.6 653 L331.1 653 L328.6 653Z" fill="#000"/>
<path d="M354.8 682.1 L349 684.6 L349 682.1 L349 679.6Z" fill="#000"/>
<path d="M345.3 664.9 L343.51 670.95 L341.59 669.35 L339.67 667.75Z" fill="#000"/>
<text x="320.8" y="652.2" font-size="13.5" class="bi">z</text>
<text x="340.6" y="662.3" font-size="13.5" class="bi">y</text>
<text x="350.8" y="692" font-size="13.5" class="bi">x</text>
</g>
<g clip-path="url(#clipB)" fill="none" stroke-width="7.5" stroke-linejoin="round" stroke-linecap="round">
<path d="M137.66 659.39 L138.23 659.39 L138.78 659.39 L139.32 659.39 L139.87 659.39 L140.43 659.39 L141.02 659.39 L141.65 659.39 L142.34 659.39 L143.53 659.38 L144.84 659.35 L146.25 659.32 L147.73 659.29 L149.26 659.27 L150.84 659.27 L152.43 659.31 L154.01 659.39 L155.93 659.53 L157.92 659.73 L159.95 659.96 L162.03 660.22 L164.12 660.52 L166.22 660.83 L168.31 661.16 L170.36 661.49 L172.42 661.85 L174.49 662.24 L176.57 662.66 L178.64 663.1 L180.7 663.54 L182.74 663.97 L184.74 664.38 L186.72 664.76 L188.47 665.12 L190.2 665.53 L191.91 665.94 L193.61 666.34 L195.28 666.68 L196.95 666.95 L198.61 667.09 L200.26 667.09 L201.87 666.93 L203.46 666.62 L205.04 666.2 L206.61 665.7 L208.17 665.16 L209.74 664.6 L211.3 664.07 L212.88 663.59 L214.56 663.96 L216.21 664.32 L217.86 664.68 L219.52 665.03 L221.19 665.4 L222.89 665.78 L224.63 666.19 L226.42 666.63 L228.63 667.19 L230.92 667.8 L233.27 668.45 L235.66 669.12 L238.07 669.8 L240.46 670.47 L242.81 671.13 L245.11 671.77 L247.23 672.37 L249.35 673 L251.47 673.65 L253.56 674.28 L255.62 674.87 L257.63 675.41 L259.58 675.86 L261.46 676.2 L262.87 676.39 L264.23 676.51 L265.55 676.58 L266.85 676.6 L268.12 676.61 L269.39 676.62 L270.67 676.63 L271.97 676.67 L272.7 677.18 L273.44 677.66 L274.17 678.13 L274.91 678.6 L275.64 679.1 L276.37 679.63 L277.09 680.22 L277.81 680.88 L278.71 681.84 L279.62 682.95 L280.51 684.15 L281.4 685.4 L282.27 686.68 L283.14 687.93 L283.98 689.12 L284.82 690.22 L285.47 691.05 L286.09 691.83 L286.69 692.57 L287.28 693.3 L287.89 694.03 L288.53 694.77 L289.23 695.54 L290 696.35 L291.22 697.54 L292.57 698.78 L294.03 700.05 L295.55 701.36 L297.11 702.7 L298.68 704.06 L300.21 705.45 L301.68 706.86 L303.17 708.39 L304.63 709.96 L306.09 711.58 L307.54 713.22 L308.98 714.87 L310.43 716.52 L311.89 718.13 L313.36 719.71 L314.8 721.22 L316.24 722.74 L317.68 724.25 L319.13 725.75 L320.59 727.21 L322.06 728.65 L323.54 730.04 L325.04 731.39 L326.46 732.61 L327.89 733.82 L329.34 734.99 L330.79 736.13 L332.25 737.23 L333.73 738.29 L335.22 739.3 L336.72 740.26 L338.14 741.14 L339.58 741.98 L341.02 742.8 L342.48 743.57 L343.94 744.29 L345.42 744.96 L346.9 745.57 L348.39 746.1 L349.83 746.55 L351.28 746.95 L352.73 747.3 L354.2 747.6 L355.67 747.84 L357.14 748.02 L358.61 748.14 L360.07 748.2 L361.53 748.2 L363 748.14 L364.47 748.01 L365.94 747.83 L367.41 747.6 L368.87 747.31 L370.31 746.96 L371.75 746.57 L373.24 746.09 L374.72 745.52 L376.18 744.89 L377.64 744.21 L379.1 743.48 L380.55 742.73 L381.99 741.96 L383.43 741.2 L384.91 740.4 L386.38 739.56 L387.84 738.7 L389.3 737.81 L390.75 736.91 L392.21 736 L393.66 735.1 L395.11 734.19 L396.57 733.27 L398.04 732.35 L399.5 731.42 L400.96 730.48 L402.41 729.54 L403.87 728.59 L405.33 727.65 L406.79 726.72 L408.25 725.78 L409.71 724.85 L411.17 723.92 L412.63 722.99 L414.09 722.06 L415.55 721.12 L417.01 720.18 L418.47 719.24 L419.94 718.28 L421.42 717.31 L422.91 716.33 L424.39 715.35 L425.87 714.38 L427.32 713.41 L428.75 712.46 L430.15 711.53 L431.4 710.72 L432.68 709.94 L433.97 709.18 L435.22 708.42 L436.43 707.65 L437.56 706.87 L438.59 706.07 L439.49 705.23 L440.08 704.56 L440.59 703.87 L441.03 703.17 L441.44 702.47 L441.82 701.75 L442.19 701.04 L442.58 700.33 L442.99 699.62 L443.14 703.02 L443.28 706.44 L443.42 709.87 L443.55 713.29 L443.7 716.7 L443.84 720.08 L444 723.43 L444.16 726.72 L444.32 729.71 L444.49 732.66 L444.66 735.56 L444.83 738.45 L445.01 741.32 L445.19 744.21 L445.38 747.12 L445.56 750.07 L445.76 753.18 L445.96 756.31 L446.16 759.46 L446.37 762.63 L446.58 765.8 L446.78 768.97 L446.99 772.14 L447.2 775.3 L447.78 774.87 L448.35 774.44 L448.92 774.03 L449.5 773.61 L450.07 773.18 L450.66 772.73 L451.27 772.26 L451.9 771.75 L452.74 771.04 L453.62 770.26 L454.53 769.44 L455.46 768.59 L456.39 767.73 L457.33 766.86 L458.27 766.01 L459.2 765.18 L460.11 764.38 L461.01 763.59 L461.92 762.8 L462.84 762.01 L463.75 761.22 L464.66 760.44 L465.58 759.67 L466.5 758.91 L467.4 758.16 L468.31 757.41 L469.22 756.67 L470.13 755.94 L471.05 755.21 L471.96 754.49 L472.88 753.78 L473.8 753.07 L474.7 752.37 L475.61 751.69 L476.53 751.01 L477.44 750.34 L478.35 749.67 L479.27 749.01 L480.18 748.34 L481.09 747.66 L482.01 746.99 L482.92 746.3 L483.83 745.62 L484.74 744.93 L485.65 744.25 L486.56 743.58 L487.48 742.91 L488.39 742.26 L489.3 741.63 L490.2 741 L491.11 740.37 L492.02 739.76 L492.93 739.15 L493.85 738.56 L494.77 737.99 L495.69 737.45 L496.59 736.94 L497.5 736.45 L498.41 735.99 L499.32 735.53 L500.24 735.09 L501.16 734.66 L502.07 734.23 L502.99 733.8 L503.9 733.38 L504.81 732.97 L505.73 732.57 L506.64 732.17 L507.55 731.78 L508.47 731.39 L509.38 730.99 L510.29 730.58 L511.21 730.17 L512.12 729.75 L513.03 729.33 L513.94 728.91 L514.86 728.49 L515.77 728.07 L516.68 727.65 L517.59 727.23 L518.51 726.8 L519.45 726.38 L520.39 725.95 L521.32 725.52 L522.25 725.1 L523.16 724.68 L524.04 724.27 L524.89 723.87 L525.57 723.57 L526.22 723.31 L526.84 723.06 L527.46 722.82 L528.07 722.55 L528.69 722.24 L529.33 721.86 L530 721.39 L531.17 720.41 L532.44 719.19 L533.76 717.8 L535.11 716.29 L536.42 714.71 L537.67 713.13 L538.8 711.59 L539.78 710.16 L540.45 709.11 L541.06 708.08 L541.61 707.08 L542.11 706.07 L542.57 705.05 L542.99 704 L543.38 702.91 L543.75 701.75 L544.14 700.32 L544.45 698.85 L544.71 697.32 L544.93 695.75 L545.12 694.12 L545.28 692.44 L545.45 690.7 L545.62 688.91 L545.83 686.4 L546 683.7 L546.14 680.86 L546.26 677.95 L546.37 675.02 L546.49 672.13 L546.63 669.34 L546.79 666.72 L546.95 664.63 L547.11 662.61 L547.29 660.65 L547.47 658.72 L547.65 656.81 L547.83 654.91 L548.01 653 L548.19 651.07 L548.94 651.2 L549.67 651.37 L550.4 651.55 L551.13 651.73 L551.88 651.88 L552.63 651.99 L553.42 652.04 L554.23 652.02 L555.29 651.86 L556.35 651.57 L557.44 651.18 L558.56 650.73 L559.74 650.25 L560.98 649.76 L562.3 649.32 L563.72 648.93 L566.15 648.42 L568.87 647.95 L571.8 647.5 L574.88 647.07 L578.05 646.68 L581.24 646.3 L584.39 645.95 L587.43 645.61 L590.39 645.3 L593.35 645.02 L596.32 644.77 L599.28 644.53 L602.25 644.31 L605.21 644.11 L608.18 643.91 L611.15 643.72 L614.14 643.53 L617.19 643.36 L620.26 643.2 L623.32 643.06 L626.34 642.92 L629.29 642.79 L632.14 642.66 L634.86 642.53 L636.98 642.43 L639.06 642.33 L641.09 642.23 L643.07 642.13 L644.99 642.04 L646.83 641.96 L648.6 641.88 L650.28 641.82 L651.44 641.78 L652.53 641.74 L653.58 641.71 L654.59 641.68 L655.58 641.66 L656.56 641.63 L657.56 641.61 L658.58 641.58" stroke="#1f77b4"/>
<path d="M137.66 901.94 L138.23 901.94 L138.78 901.94 L139.32 901.94 L139.87 901.94 L140.43 901.94 L141.02 901.94 L141.65 901.94 L142.34 901.94 L143.53 901.94 L144.84 901.93 L146.24 901.93 L147.72 901.92 L149.26 901.92 L150.83 901.92 L152.43 901.92 L154.01 901.94 L155.93 901.97 L157.91 902.01 L159.95 902.05 L162.02 902.1 L164.11 902.16 L166.21 902.23 L168.3 902.31 L170.36 902.41 L172.39 902.52 L174.39 902.66 L176.37 902.8 L178.36 902.96 L180.37 903.12 L182.42 903.28 L184.53 903.43 L186.72 903.58 L189.44 903.73 L192.26 903.88 L195.17 904.02 L198.13 904.16 L201.13 904.3 L204.14 904.44 L207.13 904.59 L210.07 904.74 L213.01 904.92 L215.97 905.11 L218.95 905.31 L221.91 905.51 L224.86 905.7 L227.77 905.87 L230.63 906.03 L233.43 906.15 L235.9 906.24 L238.35 906.34 L240.79 906.43 L243.18 906.5 L245.53 906.54 L247.81 906.55 L250.01 906.49 L252.12 906.38 L253.73 906.22 L255.28 905.99 L256.79 905.72 L258.26 905.43 L259.69 905.14 L261.08 904.88 L262.45 904.66 L263.8 904.51 L264.87 904.43 L265.9 904.36 L266.89 904.31 L267.87 904.28 L268.84 904.28 L269.84 904.32 L270.88 904.39 L271.97 904.51 L273.48 904.76 L275.12 905.12 L276.84 905.57 L278.58 906.05 L280.3 906.55 L281.94 907.03 L283.46 907.45 L284.82 907.78 L285.56 907.94 L286.22 908.06 L286.84 908.17 L287.42 908.26 L288.01 908.36 L288.61 908.46 L289.27 908.58 L290 908.72 L291.24 908.97 L292.59 909.25 L294.04 909.57 L295.55 909.9 L297.1 910.24 L298.65 910.59 L300.19 910.94 L301.68 911.28 L303.14 911.62 L304.6 911.95 L306.06 912.29 L307.53 912.63 L308.99 912.98 L310.44 913.33 L311.9 913.7 L313.36 914.09 L314.82 914.49 L316.28 914.92 L317.74 915.35 L319.2 915.8 L320.66 916.25 L322.12 916.7 L323.58 917.15 L325.04 917.59 L326.5 918.04 L327.95 918.49 L329.41 918.96 L330.87 919.41 L332.33 919.87 L333.79 920.3 L335.25 920.71 L336.72 921.09 L338.17 921.44 L339.62 921.77 L341.08 922.07 L342.54 922.36 L344.01 922.64 L345.47 922.91 L346.93 923.17 L348.39 923.43 L349.85 923.69 L351.31 923.94 L352.77 924.19 L354.23 924.42 L355.69 924.65 L357.15 924.88 L358.61 925.09 L360.07 925.3 L361.53 925.5 L362.99 925.7 L364.45 925.9 L365.91 926.09 L367.37 926.26 L368.83 926.43 L370.29 926.57 L371.75 926.7 L373.21 926.81 L374.67 926.9 L376.13 926.98 L377.59 927.05 L379.05 927.1 L380.51 927.14 L381.97 927.16 L383.43 927.17 L384.89 927.16 L386.35 927.14 L387.81 927.1 L389.27 927.05 L390.73 926.98 L392.19 926.9 L393.65 926.81 L395.11 926.7 L396.57 926.57 L398.03 926.42 L399.49 926.24 L400.95 926.06 L402.41 925.87 L403.87 925.67 L405.33 925.48 L406.79 925.3 L408.25 925.13 L409.71 924.95 L411.17 924.78 L412.63 924.61 L414.09 924.44 L415.55 924.26 L417.01 924.08 L418.47 923.9 L419.93 923.7 L421.39 923.51 L422.85 923.3 L424.31 923.09 L425.77 922.89 L427.23 922.68 L428.69 922.47 L430.15 922.26 L431.61 922.06 L433.07 921.87 L434.53 921.68 L435.99 921.49 L437.46 921.3 L438.91 921.09 L440.37 920.87 L441.82 920.63 L443.25 920.37 L444.62 920.1 L445.98 919.82 L447.35 919.53 L448.74 919.23 L450.19 918.91 L451.72 918.59 L453.36 918.25 L455.89 917.73 L458.62 917.18 L461.52 916.59 L464.52 915.98 L467.59 915.36 L470.68 914.75 L473.74 914.15 L476.72 913.58 L479.71 913.01 L482.83 912.44 L486 911.87 L489.14 911.3 L492.19 910.76 L495.07 910.25 L497.73 909.78 L500.07 909.37 L501.32 909.17 L502.51 909.01 L503.63 908.86 L504.69 908.73 L505.68 908.59 L506.6 908.43 L507.46 908.22 L508.25 907.97 L508.72 907.77 L509.14 907.56 L509.52 907.33 L509.88 907.08 L510.23 906.84 L510.57 906.59 L510.92 906.34 L511.28 906.1 L511.4 907.76 L511.51 909.42 L511.62 911.08 L511.73 912.74 L511.84 914.4 L511.96 916.06 L512.08 917.74 L512.22 919.42 L512.37 921.2 L512.52 923.06 L512.68 924.95 L512.85 926.84 L513.03 928.67 L513.22 930.41 L513.41 932.01 L513.62 933.43 L513.76 934.2 L513.9 934.9 L514.04 935.55 L514.19 936.16 L514.34 936.76 L514.49 937.35 L514.64 937.94 L514.79 938.57 L523.43 936.93 L524.62 937.37 L525.82 937.79 L527.04 938.21 L528.26 938.64 L529.45 939.06 L530.61 939.51 L531.73 939.96 L532.77 940.44 L533.6 940.84 L534.4 941.24 L535.18 941.64 L535.93 942.06 L536.65 942.49 L537.34 942.94 L538 943.42 L538.61 943.94 L539.15 944.44 L539.65 944.96 L540.11 945.49 L540.55 946.04 L540.97 946.63 L541.37 947.25 L541.75 947.91 L542.12 948.61 L542.57 949.64 L542.96 950.77 L543.32 951.99 L543.65 953.26 L543.96 954.56 L544.27 955.87 L544.58 957.17 L544.92 958.42 L545.07 956.77 L545.22 955.13 L545.38 953.49 L545.54 951.85 L545.69 950.2 L545.83 948.54 L545.97 946.84 L546.09 945.11 L546.2 943.15 L546.31 941.14 L546.4 939.1 L546.48 937.04 L546.55 934.97 L546.63 932.89 L546.7 930.81 L546.79 928.76 L546.85 926.66 L546.89 924.49 L546.91 922.28 L546.94 920.09 L546.99 917.96 L547.09 915.94 L547.25 914.08 L547.49 912.41 L547.69 911.47 L547.92 910.61 L548.18 909.81 L548.46 909.06 L548.75 908.33 L549.04 907.6 L549.32 906.87 L549.59 906.1 L550.16 906.07 L550.71 906.04 L551.26 906.01 L551.81 905.98 L552.37 905.94 L552.96 905.9 L553.57 905.84 L554.23 905.77 L555.23 905.63 L556.27 905.45 L557.35 905.25 L558.49 905.03 L559.69 904.79 L560.96 904.56 L562.3 904.33 L563.72 904.11 L566.17 903.78 L568.89 903.44 L571.82 903.09 L574.9 902.75 L578.06 902.41 L581.25 902.09 L584.39 901.78 L587.43 901.5 L590.39 901.24 L593.36 901 L596.32 900.77 L599.28 900.55 L602.25 900.35 L605.21 900.17 L608.18 900 L611.15 899.84 L614.14 899.71 L617.19 899.59 L620.26 899.5 L623.32 899.42 L626.34 899.35 L629.29 899.28 L632.14 899.21 L634.86 899.13 L636.98 899.07 L639.06 899 L641.09 898.94 L643.07 898.88 L644.99 898.82 L646.83 898.76 L648.6 898.71 L650.28 898.66 L651.44 898.62 L652.53 898.59 L653.58 898.56 L654.59 898.53 L655.58 898.5 L656.56 898.48 L657.56 898.45 L658.58 898.42" stroke="#ff7f0e"/>
<path d="M137.66 840.98 L138.23 840.98 L138.78 840.98 L139.32 840.98 L139.87 840.98 L140.43 840.98 L141.02 840.98 L141.65 840.98 L142.34 840.98 L143.53 840.97 L144.84 840.97 L146.24 840.95 L147.72 840.94 L149.26 840.94 L150.83 840.94 L152.43 840.95 L154.01 840.98 L155.93 841.02 L157.91 841.08 L159.95 841.14 L162.02 841.22 L164.12 841.31 L166.22 841.42 L168.3 841.54 L170.36 841.68 L172.39 841.84 L174.39 842.02 L176.37 842.22 L178.36 842.43 L180.37 842.65 L182.42 842.88 L184.53 843.1 L186.72 843.31 L189.45 843.57 L192.32 843.83 L195.28 844.09 L198.3 844.36 L201.32 844.62 L204.32 844.89 L207.25 845.15 L210.07 845.42 L212.56 845.66 L215.07 845.91 L217.57 846.16 L220.02 846.41 L222.4 846.66 L224.67 846.89 L226.8 847.1 L228.76 847.28 L229.92 847.41 L230.97 847.54 L231.95 847.66 L232.88 847.78 L233.81 847.88 L234.77 847.96 L235.8 847.99 L236.93 847.99 L238.7 847.86 L240.59 847.6 L242.58 847.26 L244.66 846.87 L246.79 846.47 L248.95 846.11 L251.12 845.82 L253.28 845.65 L255.71 845.55 L258.24 845.49 L260.84 845.48 L263.45 845.53 L266.03 845.65 L268.54 845.86 L270.92 846.16 L273.14 846.58 L274.81 847.04 L276.43 847.61 L277.99 848.26 L279.5 848.96 L280.94 849.67 L282.31 850.35 L283.6 850.97 L284.82 851.49 L285.55 851.77 L286.21 852.01 L286.82 852.23 L287.41 852.43 L288 852.63 L288.61 852.85 L289.27 853.08 L290 853.36 L291.24 853.83 L292.6 854.36 L294.04 854.93 L295.56 855.53 L297.1 856.15 L298.66 856.78 L300.19 857.41 L301.68 858.03 L303.14 858.65 L304.61 859.28 L306.07 859.91 L307.53 860.56 L308.98 861.21 L310.44 861.86 L311.9 862.51 L313.36 863.17 L314.82 863.83 L316.28 864.5 L317.74 865.18 L319.2 865.85 L320.66 866.53 L322.11 867.21 L323.57 867.88 L325.04 868.54 L326.49 869.2 L327.95 869.86 L329.41 870.52 L330.86 871.18 L332.32 871.83 L333.78 872.46 L335.25 873.08 L336.72 873.68 L338.17 874.25 L339.62 874.82 L341.07 875.38 L342.53 875.92 L343.99 876.44 L345.46 876.95 L346.92 877.43 L348.39 877.88 L349.84 878.31 L351.3 878.72 L352.75 879.1 L354.21 879.47 L355.68 879.81 L357.14 880.13 L358.61 880.42 L360.07 880.69 L361.53 880.92 L362.98 881.12 L364.44 881.29 L365.9 881.44 L367.36 881.57 L368.83 881.68 L370.29 881.77 L371.75 881.85 L373.21 881.92 L374.67 881.97 L376.13 882.01 L377.59 882.03 L379.05 882.02 L380.51 882 L381.97 881.94 L383.43 881.85 L384.89 881.74 L386.36 881.59 L387.82 881.41 L389.28 881.21 L390.74 880.99 L392.2 880.75 L393.66 880.49 L395.11 880.22 L396.57 879.93 L398.04 879.6 L399.5 879.26 L400.96 878.9 L402.42 878.53 L403.87 878.16 L405.33 877.79 L406.79 877.42 L408.25 877.05 L409.71 876.67 L411.17 876.29 L412.63 875.91 L414.09 875.53 L415.55 875.14 L417.01 874.76 L418.47 874.38 L419.93 874 L421.39 873.62 L422.85 873.23 L424.3 872.85 L425.76 872.47 L427.22 872.09 L428.68 871.71 L430.15 871.34 L431.59 870.98 L433.02 870.61 L434.43 870.24 L435.86 869.88 L437.3 869.52 L438.76 869.18 L440.27 868.85 L441.82 868.54 L443.73 868.22 L445.71 867.95 L447.76 867.71 L449.84 867.48 L451.93 867.24 L454.01 866.98 L456.05 866.66 L458.03 866.28 L459.84 865.85 L461.62 865.36 L463.38 864.84 L465.11 864.29 L466.84 863.72 L468.57 863.16 L470.3 862.6 L472.04 862.07 L473.83 861.56 L475.66 861.05 L477.51 860.53 L479.35 860.02 L481.16 859.52 L482.9 859.03 L484.54 858.56 L486.06 858.1 L487.05 857.79 L487.98 857.49 L488.87 857.2 L489.72 856.91 L490.55 856.62 L491.37 856.34 L492.21 856.06 L493.07 855.77 L495.64 852.96 L495.72 855.36 L495.8 857.76 L495.89 860.16 L495.97 862.56 L496.05 864.95 L496.14 867.35 L496.24 869.73 L496.34 872.12 L496.43 874.53 L496.52 877.04 L496.61 879.58 L496.7 882.1 L496.81 884.54 L496.94 886.84 L497.09 888.95 L497.27 890.8 L497.39 891.76 L497.53 892.62 L497.67 893.42 L497.83 894.17 L497.98 894.89 L498.14 895.61 L498.29 896.34 L498.44 897.11 L499.51 896.58 L500.56 896.02 L501.6 895.44 L502.65 894.86 L503.71 894.32 L504.79 893.84 L505.91 893.44 L507.08 893.14 L508.44 892.94 L509.88 892.87 L511.36 892.89 L512.87 892.98 L514.38 893.12 L515.88 893.29 L517.35 893.46 L518.76 893.61 L519.99 893.72 L521.21 893.85 L522.41 893.98 L523.6 894.13 L524.76 894.31 L525.9 894.51 L527.02 894.74 L528.1 895.01 L529.05 895.27 L529.98 895.54 L530.88 895.83 L531.77 896.15 L532.64 896.5 L533.49 896.88 L534.31 897.32 L535.11 897.81 L535.93 898.38 L536.73 899.01 L537.51 899.69 L538.27 900.41 L538.99 901.17 L539.68 901.97 L540.34 902.8 L540.95 903.65 L541.54 904.61 L542.06 905.64 L542.54 906.71 L542.98 907.82 L543.4 908.94 L543.81 910.07 L544.24 911.19 L544.69 912.29 L544.81 910.8 L544.93 909.35 L545.05 907.91 L545.18 906.47 L545.3 904.99 L545.41 903.46 L545.52 901.85 L545.62 900.15 L545.74 897.59 L545.84 894.84 L545.92 891.94 L546 888.94 L546.07 885.88 L546.15 882.81 L546.23 879.76 L546.32 876.79 L546.41 873.8 L546.48 870.71 L546.55 867.59 L546.63 864.48 L546.72 861.45 L546.85 858.56 L547.03 855.87 L547.26 853.43 L547.44 852 L547.65 850.67 L547.88 849.44 L548.13 848.26 L548.38 847.11 L548.63 845.97 L548.88 844.82 L549.12 843.62 L554.23 845.3 L555.38 844.94 L556.5 844.58 L557.59 844.22 L558.69 843.85 L559.83 843.49 L561.03 843.14 L562.31 842.79 L563.72 842.45 L566.16 841.93 L568.88 841.41 L571.81 840.9 L574.89 840.4 L578.05 839.92 L581.24 839.47 L584.39 839.05 L587.43 838.66 L590.39 838.31 L593.35 837.99 L596.32 837.7 L599.28 837.44 L602.25 837.2 L605.21 836.97 L608.18 836.74 L611.15 836.52 L614.14 836.31 L617.19 836.1 L620.26 835.91 L623.32 835.73 L626.34 835.56 L629.29 835.4 L632.14 835.24 L634.86 835.1 L636.98 834.99 L639.06 834.88 L641.09 834.78 L643.07 834.69 L644.99 834.6 L646.83 834.52 L648.6 834.45 L650.28 834.39 L651.44 834.35 L652.53 834.31 L653.58 834.28 L654.59 834.25 L655.58 834.23 L656.56 834.2 L657.56 834.18 L658.58 834.15" stroke="#2ca02c"/>
<path d="M137.66 780.15 L138.23 780.15 L138.78 780.15 L139.32 780.15 L139.87 780.15 L140.43 780.15 L141.02 780.15 L141.65 780.15 L142.34 780.15 L143.54 780.14 L144.86 780.12 L146.28 780.1 L147.78 780.08 L149.33 780.07 L150.9 780.07 L152.47 780.1 L154.01 780.15 L155.69 780.23 L157.38 780.33 L159.09 780.46 L160.82 780.6 L162.57 780.76 L164.36 780.94 L166.17 781.12 L168.03 781.31 L170.23 781.55 L172.49 781.82 L174.79 782.1 L177.14 782.4 L179.51 782.71 L181.91 783.02 L184.31 783.34 L186.72 783.65 L189.32 783.99 L192.01 784.34 L194.74 784.7 L197.47 785.06 L200.18 785.42 L202.82 785.78 L205.35 786.12 L207.74 786.45 L209.5 786.74 L211.18 787.08 L212.8 787.43 L214.37 787.78 L215.92 788.07 L217.46 788.28 L219.01 788.37 L220.58 788.32 L222.21 788.05 L223.82 787.55 L225.44 786.91 L227.05 786.2 L228.65 785.5 L230.25 784.86 L231.84 784.38 L233.43 784.12 L234.9 784.08 L236.35 784.18 L237.79 784.4 L239.22 784.68 L240.67 785.02 L242.12 785.37 L243.6 785.7 L245.11 785.99 L246.81 786.28 L248.55 786.61 L250.32 786.95 L252.11 787.29 L253.9 787.61 L255.67 787.9 L257.42 788.14 L259.12 788.32 L260.65 788.39 L262.19 788.37 L263.72 788.3 L265.23 788.21 L266.71 788.13 L268.14 788.1 L269.51 788.15 L270.8 788.32 L271.77 788.54 L272.67 788.8 L273.52 789.11 L274.34 789.45 L275.17 789.83 L276 790.24 L276.88 790.67 L277.81 791.12 L279.14 791.78 L280.54 792.5 L282 793.28 L283.49 794.1 L285 794.96 L286.51 795.85 L288.02 796.75 L289.49 797.66 L291.02 798.65 L292.54 799.69 L294.07 800.77 L295.59 801.87 L297.11 802.97 L298.63 804.06 L300.16 805.12 L301.68 806.13 L303.14 807.06 L304.6 807.96 L306.06 808.84 L307.52 809.7 L308.98 810.56 L310.44 811.41 L311.9 812.27 L313.36 813.14 L314.82 814.01 L316.28 814.89 L317.74 815.77 L319.2 816.64 L320.66 817.52 L322.12 818.39 L323.58 819.27 L325.04 820.15 L326.49 821.03 L327.95 821.94 L329.4 822.85 L330.85 823.76 L332.31 824.65 L333.77 825.52 L335.24 826.36 L336.72 827.15 L338.16 827.88 L339.6 828.58 L341.06 829.26 L342.52 829.91 L343.98 830.53 L345.45 831.14 L346.92 831.72 L348.39 832.29 L349.84 832.83 L351.29 833.36 L352.75 833.87 L354.21 834.36 L355.67 834.82 L357.13 835.26 L358.6 835.66 L360.07 836.03 L361.52 836.37 L362.98 836.69 L364.43 836.98 L365.9 837.25 L367.36 837.48 L368.82 837.67 L370.29 837.81 L371.75 837.9 L373.21 837.93 L374.67 837.9 L376.13 837.83 L377.6 837.72 L379.06 837.57 L380.52 837.39 L381.98 837.19 L383.43 836.96 L384.9 836.71 L386.36 836.42 L387.83 836.1 L389.29 835.75 L390.75 835.37 L392.2 834.98 L393.66 834.58 L395.11 834.16 L396.58 833.72 L398.04 833.25 L399.5 832.76 L400.96 832.26 L402.42 831.74 L403.87 831.22 L405.33 830.7 L406.79 830.19 L408.25 829.68 L409.71 829.16 L411.17 828.64 L412.63 828.12 L414.09 827.59 L415.55 827.06 L417.01 826.52 L418.47 825.99 L419.93 825.44 L421.39 824.89 L422.85 824.33 L424.31 823.77 L425.77 823.21 L427.22 822.65 L428.68 822.09 L430.15 821.55 L431.59 821.02 L433.02 820.51 L434.44 820 L435.87 819.5 L437.31 818.99 L438.78 818.47 L440.28 817.92 L441.82 817.34 L443.78 816.59 L445.88 815.75 L448.06 814.87 L450.27 813.97 L452.42 813.1 L454.48 812.27 L456.37 811.54 L458.03 810.92 L458.88 810.63 L459.65 810.38 L460.36 810.17 L461.03 809.98 L461.69 809.78 L462.37 809.58 L463.08 809.34 L463.87 809.05 L465.04 808.58 L466.29 808.05 L467.6 807.48 L468.94 806.87 L470.31 806.24 L471.68 805.6 L473.05 804.98 L474.38 804.38 L477.88 798.07 L478.09 800.6 L478.3 803.12 L478.52 805.63 L478.73 808.14 L478.94 810.67 L479.15 813.21 L479.34 815.79 L479.52 818.39 L479.69 821.28 L479.83 824.27 L479.97 827.32 L480.09 830.38 L480.22 833.4 L480.35 836.33 L480.51 839.13 L480.69 841.75 L480.84 843.6 L481.01 845.34 L481.18 847.02 L481.36 848.64 L481.54 850.24 L481.73 851.83 L481.91 853.43 L482.09 855.07 L488.39 847.59 L489.85 847.29 L491.31 846.99 L492.77 846.68 L494.23 846.38 L495.69 846.08 L497.15 845.79 L498.61 845.51 L500.07 845.26 L501.53 845.01 L502.99 844.77 L504.45 844.54 L505.91 844.32 L507.37 844.12 L508.83 843.93 L510.29 843.76 L511.75 843.62 L513.21 843.49 L514.67 843.36 L516.13 843.25 L517.59 843.16 L519.06 843.09 L520.52 843.06 L521.97 843.08 L523.43 843.15 L524.92 843.29 L526.43 843.47 L527.95 843.71 L529.47 843.98 L530.96 844.28 L532.41 844.6 L533.8 844.93 L535.11 845.26 L536.1 845.51 L537.06 845.78 L537.99 846.05 L538.89 846.34 L539.75 846.63 L540.58 846.94 L541.37 847.26 L542.12 847.59 L542.65 847.86 L543.15 848.14 L543.63 848.43 L544.08 848.73 L544.52 849.03 L544.95 849.33 L545.4 849.63 L545.85 849.93 L545.97 847.46 L546.09 845 L546.22 842.55 L546.34 840.1 L546.46 837.64 L546.57 835.15 L546.68 832.63 L546.79 830.07 L546.89 827.24 L546.98 824.37 L547.06 821.45 L547.14 818.51 L547.22 815.56 L547.31 812.6 L547.39 809.65 L547.49 806.72 L547.57 803.67 L547.61 800.45 L547.64 797.16 L547.68 793.9 L547.75 790.79 L547.89 787.92 L548.1 785.41 L548.42 783.36 L548.61 782.59 L548.83 781.92 L549.06 781.32 L549.3 780.78 L549.55 780.27 L549.8 779.76 L550.05 779.24 L550.29 778.69 L554.23 783.64 L555.38 783.19 L556.49 782.74 L557.58 782.29 L558.68 781.83 L559.82 781.38 L561.02 780.94 L562.31 780.51 L563.72 780.08 L566.15 779.43 L568.87 778.77 L571.8 778.13 L574.87 777.5 L578.04 776.9 L581.23 776.33 L584.38 775.81 L587.43 775.34 L590.39 774.92 L593.35 774.56 L596.31 774.24 L599.28 773.96 L602.24 773.7 L605.21 773.45 L608.18 773.21 L611.15 772.96 L614.14 772.72 L617.19 772.48 L620.26 772.25 L623.32 772.04 L626.34 771.83 L629.29 771.64 L632.14 771.47 L634.86 771.3 L636.98 771.19 L639.06 771.08 L641.09 770.98 L643.07 770.89 L644.99 770.8 L646.83 770.73 L648.6 770.66 L650.28 770.59 L651.44 770.55 L652.53 770.52 L653.58 770.49 L654.59 770.46 L655.58 770.43 L656.56 770.41 L657.56 770.38 L658.58 770.36" stroke="#d62728"/>
<path d="M137.66 719.42 L138.23 719.41 L138.78 719.41 L139.32 719.41 L139.87 719.4 L140.43 719.4 L141.02 719.4 L141.65 719.41 L142.34 719.42 L143.53 719.44 L144.84 719.47 L146.25 719.5 L147.73 719.55 L149.26 719.61 L150.84 719.68 L152.43 719.77 L154.01 719.88 L155.93 720.04 L157.91 720.23 L159.95 720.44 L162.02 720.67 L164.12 720.92 L166.22 721.19 L168.31 721.46 L170.36 721.75 L172.42 722.06 L174.49 722.39 L176.56 722.75 L178.62 723.11 L180.68 723.48 L182.72 723.85 L184.73 724.21 L186.72 724.55 L188.54 724.86 L190.36 725.17 L192.17 725.48 L193.97 725.78 L195.73 726.08 L197.45 726.36 L199.12 726.63 L200.73 726.89 L201.98 727.12 L203.17 727.38 L204.31 727.65 L205.44 727.9 L206.56 728.11 L207.69 728.27 L208.86 728.33 L210.07 728.29 L211.59 728.07 L213.16 727.69 L214.76 727.18 L216.38 726.59 L218.02 725.95 L219.67 725.29 L221.3 724.66 L222.92 724.09 L224.8 724.56 L226.65 725.02 L228.48 725.49 L230.33 725.96 L232.19 726.43 L234.1 726.89 L236.06 727.36 L238.1 727.82 L240.72 728.42 L243.51 729.06 L246.41 729.72 L249.36 730.37 L252.29 730.98 L255.13 731.52 L257.82 731.96 L260.29 732.26 L261.92 732.39 L263.46 732.45 L264.93 732.46 L266.35 732.43 L267.75 732.38 L269.13 732.33 L270.54 732.28 L271.97 732.26 L272.7 732.68 L273.42 733.08 L274.14 733.47 L274.87 733.86 L275.59 734.28 L276.32 734.72 L277.06 735.21 L277.81 735.77 L278.82 736.61 L279.87 737.6 L280.95 738.67 L282.03 739.8 L283.1 740.93 L284.12 742.03 L285.09 743.04 L285.99 743.94 L286.54 744.48 L287.03 744.95 L287.49 745.4 L287.94 745.82 L288.39 746.25 L288.88 746.7 L289.4 747.19 L290 747.74 L291.16 748.8 L292.49 750 L293.93 751.3 L295.45 752.67 L297.03 754.08 L298.61 755.5 L300.18 756.9 L301.68 758.25 L303.14 759.57 L304.59 760.9 L306.05 762.23 L307.5 763.56 L308.96 764.89 L310.42 766.2 L311.88 767.49 L313.36 768.76 L314.8 769.98 L316.24 771.21 L317.69 772.42 L319.14 773.61 L320.6 774.79 L322.07 775.93 L323.55 777.04 L325.04 778.1 L326.47 779.08 L327.91 780.04 L329.36 780.96 L330.81 781.86 L332.28 782.72 L333.75 783.56 L335.23 784.35 L336.72 785.11 L338.15 785.8 L339.6 786.46 L341.05 787.09 L342.51 787.69 L343.97 788.25 L345.44 788.79 L346.92 789.3 L348.39 789.78 L349.85 790.23 L351.32 790.65 L352.81 791.05 L354.29 791.42 L355.77 791.77 L357.23 792.07 L358.67 792.35 L360.07 792.58 L361.27 792.77 L362.43 792.94 L363.57 793.09 L364.69 793.21 L365.82 793.3 L366.98 793.35 L368.17 793.34 L369.42 793.28 L371.05 793.13 L372.77 792.88 L374.54 792.55 L376.35 792.16 L378.17 791.72 L379.98 791.25 L381.74 790.75 L383.43 790.25 L384.96 789.75 L386.45 789.22 L387.92 788.66 L389.37 788.08 L390.8 787.47 L392.23 786.85 L393.67 786.21 L395.11 785.58 L396.58 784.92 L398.04 784.23 L399.5 783.53 L400.96 782.81 L402.41 782.1 L403.87 781.38 L405.33 780.67 L406.79 779.97 L408.25 779.29 L409.71 778.62 L411.17 777.96 L412.63 777.3 L414.09 776.63 L415.55 775.97 L417.01 775.29 L418.47 774.6 L419.93 773.89 L421.39 773.16 L422.85 772.42 L424.31 771.68 L425.76 770.94 L427.22 770.2 L428.68 769.47 L430.15 768.76 L431.59 768.07 L433.04 767.4 L434.48 766.74 L435.92 766.09 L437.37 765.43 L438.84 764.77 L440.32 764.09 L441.82 763.39 L443.57 762.61 L445.43 761.83 L447.34 761.04 L449.26 760.23 L451.11 759.41 L452.84 758.55 L454.39 757.66 L455.69 756.73 L456.42 756.07 L457.04 755.39 L457.57 754.69 L458.06 753.98 L458.5 753.27 L458.94 752.55 L459.4 751.83 L459.9 751.12 L460.04 752.2 L460.19 753.24 L460.34 754.27 L460.49 755.3 L460.64 756.36 L460.78 757.48 L460.93 758.69 L461.07 760 L461.29 762.39 L461.51 765.06 L461.72 767.94 L461.93 770.98 L462.14 774.11 L462.33 777.26 L462.52 780.36 L462.7 783.36 L462.87 786.37 L463.02 789.52 L463.17 792.72 L463.3 795.89 L463.44 798.96 L463.58 801.84 L463.72 804.45 L463.87 806.72 L463.95 807.79 L464.04 808.76 L464.13 809.64 L464.22 810.48 L464.3 811.28 L464.39 812.07 L464.48 812.87 L464.57 813.72 L465.47 812.69 L466.33 811.64 L467.17 810.59 L468.02 809.54 L468.9 808.5 L469.85 807.48 L470.89 806.49 L472.04 805.55 L473.74 804.38 L475.66 803.25 L477.73 802.17 L479.9 801.12 L482.11 800.12 L484.3 799.16 L486.42 798.24 L488.39 797.37 L489.94 796.7 L491.43 796.07 L492.9 795.48 L494.34 794.92 L495.77 794.37 L497.19 793.82 L498.62 793.27 L500.07 792.7 L501.53 792.11 L502.99 791.51 L504.44 790.9 L505.9 790.29 L507.36 789.7 L508.82 789.12 L510.28 788.56 L511.75 788.03 L513.2 787.54 L514.66 787.08 L516.12 786.64 L517.58 786.21 L519.04 785.79 L520.51 785.38 L521.97 784.96 L523.43 784.53 L524.92 784.1 L526.44 783.68 L527.97 783.26 L529.5 782.84 L531 782.42 L532.45 781.98 L533.83 781.51 L535.11 781.02 L536.03 780.62 L536.9 780.19 L537.73 779.76 L538.52 779.31 L539.3 778.86 L540.07 778.41 L540.85 777.96 L541.65 777.52 L542.04 776.81 L542.45 776.12 L542.86 775.44 L543.27 774.75 L543.67 774.05 L544.05 773.31 L544.39 772.53 L544.69 771.68 L545.01 770.46 L545.25 769.16 L545.44 767.8 L545.58 766.37 L545.7 764.87 L545.81 763.31 L545.94 761.68 L546.09 760 L546.33 757.47 L546.58 754.73 L546.83 751.84 L547.07 748.83 L547.31 745.78 L547.54 742.72 L547.76 739.7 L547.96 736.79 L548.13 734.06 L548.29 731.36 L548.44 728.67 L548.58 725.99 L548.71 723.32 L548.85 720.65 L548.98 717.98 L549.12 715.3 L554.23 716.76 L555.38 716.46 L556.5 716.17 L557.59 715.87 L558.7 715.58 L559.84 715.28 L561.03 714.98 L562.32 714.69 L563.72 714.39 L566.16 713.91 L568.88 713.41 L571.81 712.91 L574.89 712.41 L578.06 711.92 L581.24 711.44 L584.39 711 L587.43 710.59 L590.39 710.22 L593.35 709.88 L596.32 709.56 L599.28 709.26 L602.25 708.98 L605.21 708.71 L608.18 708.46 L611.15 708.22 L614.14 707.99 L617.19 707.79 L620.26 707.59 L623.32 707.41 L626.34 707.25 L629.29 707.09 L632.14 706.94 L634.86 706.8 L636.98 706.69 L639.06 706.58 L641.09 706.48 L643.07 706.39 L644.99 706.3 L646.83 706.22 L648.6 706.15 L650.28 706.09 L651.44 706.05 L652.53 706.01 L653.58 705.98 L654.59 705.95 L655.58 705.93 L656.56 705.9 L657.56 705.88 L658.58 705.85" stroke="#9467bd"/>
<path d="M137.66 964.31 L138.23 964.31 L138.75 964.31 L139.27 964.31 L139.79 964.31 L140.34 964.31 L140.93 964.31 L141.59 964.31 L142.34 964.31 L144.23 964.31 L146.5 964.31 L149.06 964.31 L151.83 964.31 L154.73 964.31 L157.67 964.31 L160.57 964.31 L163.36 964.31 L166.22 964.3 L169.11 964.29 L172.03 964.28 L174.96 964.26 L177.9 964.26 L180.85 964.26 L183.79 964.27 L186.72 964.31 L189.64 964.36 L192.56 964.44 L195.47 964.53 L198.39 964.63 L201.31 964.73 L204.23 964.83 L207.15 964.93 L210.07 965.01 L213.01 965.08 L215.97 965.15 L218.95 965.22 L221.91 965.29 L224.86 965.35 L227.77 965.4 L230.64 965.44 L233.43 965.47 L235.9 965.5 L238.35 965.52 L240.78 965.53 L243.18 965.54 L245.52 965.54 L247.8 965.53 L250 965.51 L252.12 965.47 L253.72 965.44 L255.26 965.39 L256.75 965.33 L258.21 965.27 L259.63 965.2 L261.03 965.14 L262.42 965.07 L263.8 965.01 L265.02 964.94 L266.24 964.87 L267.43 964.79 L268.62 964.71 L269.78 964.64 L270.92 964.58 L272.04 964.55 L273.14 964.54 L274.05 964.56 L274.92 964.59 L275.76 964.65 L276.59 964.71 L277.43 964.78 L278.29 964.86 L279.19 964.93 L280.15 965.01 L281.44 965.11 L282.77 965.21 L284.15 965.33 L285.58 965.45 L287.05 965.57 L288.59 965.69 L290.17 965.82 L291.82 965.94 L294.2 966.1 L296.73 966.26 L299.38 966.42 L302.13 966.58 L304.93 966.75 L307.76 966.93 L310.58 967.13 L313.36 967.34 L316.23 967.6 L319.13 967.89 L322.05 968.19 L324.98 968.51 L327.91 968.83 L330.85 969.14 L333.79 969.43 L336.72 969.68 L339.63 969.9 L342.55 970.11 L345.47 970.3 L348.39 970.48 L351.31 970.65 L354.23 970.8 L357.15 970.94 L360.07 971.08 L363.05 971.2 L366.1 971.31 L369.18 971.41 L372.25 971.5 L375.26 971.58 L378.15 971.65 L380.89 971.72 L383.43 971.78 L385.08 971.83 L386.63 971.87 L388.1 971.92 L389.52 971.96 L390.91 971.99 L392.28 972.01 L393.68 972.02 L395.11 972.01 L396.54 971.99 L397.94 971.95 L399.31 971.9 L400.7 971.83 L402.12 971.77 L403.59 971.69 L405.14 971.62 L406.79 971.55 L409.33 971.45 L412.07 971.35 L414.96 971.25 L417.97 971.15 L421.04 971.03 L424.13 970.91 L427.18 970.77 L430.15 970.61 L433.05 970.44 L435.95 970.24 L438.85 970.04 L441.75 969.82 L444.65 969.59 L447.55 969.37 L450.45 969.15 L453.36 968.93 L456.27 968.73 L459.19 968.52 L462.11 968.32 L465.03 968.11 L467.95 967.91 L470.87 967.71 L473.8 967.5 L476.72 967.3 L479.65 967.09 L482.62 966.88 L485.59 966.67 L488.56 966.46 L491.5 966.25 L494.42 966.05 L497.28 965.85 L500.07 965.66 L502.55 965.5 L505.04 965.35 L507.51 965.2 L509.95 965.05 L512.31 964.91 L514.59 964.77 L516.74 964.63 L518.76 964.5 L520.12 964.41 L521.44 964.33 L522.73 964.25 L523.95 964.18 L525.12 964.1 L526.21 964.01 L527.2 963.91 L528.1 963.8 L528.56 963.72 L528.98 963.64 L529.37 963.55 L529.73 963.46 L530.08 963.37 L530.42 963.28 L530.77 963.18 L531.14 963.09 L531.25 964.07 L531.36 965.07 L531.46 966.07 L531.57 967.07 L531.68 968.06 L531.8 969.02 L531.93 969.93 L532.07 970.8 L532.2 971.45 L532.34 972.06 L532.48 972.65 L532.63 973.22 L532.79 973.78 L532.94 974.34 L533.09 974.9 L533.24 975.47 L534.07 975.91 L534.91 976.34 L535.75 976.77 L536.6 977.2 L537.43 977.63 L538.24 978.07 L539.03 978.52 L539.78 978.98 L540.42 979.4 L541.05 979.84 L541.67 980.28 L542.27 980.73 L542.84 981.18 L543.4 981.62 L543.94 982.06 L544.45 982.48 L544.84 982.81 L545.21 983.14 L545.57 983.46 L545.91 983.78 L546.24 984.1 L546.57 984.41 L546.91 984.73 L547.26 985.05 L547.34 984.15 L547.43 983.24 L547.52 982.33 L547.61 981.42 L547.69 980.52 L547.78 979.61 L547.87 978.71 L547.96 977.81 L548.03 976.91 L548.09 975.98 L548.13 975.04 L548.19 974.1 L548.25 973.2 L548.35 972.33 L548.48 971.53 L548.66 970.8 L548.82 970.35 L549 969.94 L549.2 969.55 L549.42 969.19 L549.64 968.84 L549.86 968.49 L550.08 968.14 L550.29 967.77 L550.77 967.51 L551.23 967.25 L551.68 966.98 L552.13 966.72 L552.6 966.46 L553.1 966.21 L553.64 965.98 L554.23 965.77 L555.18 965.5 L556.19 965.27 L557.27 965.08 L558.43 964.91 L559.65 964.76 L560.94 964.62 L562.29 964.48 L563.72 964.35 L566.17 964.15 L568.89 963.99 L571.82 963.86 L574.9 963.75 L578.06 963.65 L581.25 963.57 L584.39 963.48 L587.43 963.4 L590.39 963.32 L593.36 963.24 L596.32 963.18 L599.29 963.12 L602.25 963.06 L605.22 963.02 L608.18 962.97 L611.15 962.92 L614.15 962.88 L617.19 962.85 L620.26 962.82 L623.32 962.8 L626.34 962.77 L629.29 962.75 L632.14 962.72 L634.86 962.69 L636.98 962.66 L639.06 962.62 L641.09 962.59 L643.07 962.55 L644.99 962.52 L646.83 962.49 L648.6 962.47 L650.28 962.45 L651.44 962.44 L652.53 962.44 L653.58 962.44 L654.59 962.44 L655.58 962.44 L656.56 962.45 L657.56 962.45 L658.58 962.45" stroke="#8c564b"/>
</g>
<path d="M140.8 994 v-5 M242.68 994 v-5 M344.56 994 v-5 M446.44 994 v-5 M548.32 994 v-5 M650.2 994 v-5 M140.8 994 h5 M140.8 912.68 h5 M140.8 831.36 h5 M140.8 750.04 h5 M140.8 668.72 h5 M140.8 587.4 h5" stroke="#000" stroke-width="1.1" fill="none"/>
<rect x="140.8" y="587.4" width="509.4" height="406.6" fill="none" stroke="#000" stroke-width="1.35"/>
<text x="140.8" y="1027.5" font-size="29" text-anchor="middle" class="dj">500</text>
<text x="242.68" y="1027.5" font-size="29" text-anchor="middle" class="dj">600</text>
<text x="344.56" y="1027.5" font-size="29" text-anchor="middle" class="dj">700</text>
<text x="446.44" y="1027.5" font-size="29" text-anchor="middle" class="dj">800</text>
<text x="548.32" y="1027.5" font-size="29" text-anchor="middle" class="dj">900</text>
<text x="650.2" y="1027.5" font-size="29" text-anchor="middle" class="dj">1000</text>
<text x="136" y="1005.4" font-size="29" text-anchor="end" class="dj">0</text>
<text x="136" y="924.08" font-size="29" text-anchor="end" class="dj">0.5</text>
<text x="136" y="842.76" font-size="29" text-anchor="end" class="dj">1.0</text>
<text x="136" y="761.44" font-size="29" text-anchor="end" class="dj">1.5</text>
<text x="136" y="680.12" font-size="29" text-anchor="end" class="dj">2.0</text>
<text x="136" y="598.8" font-size="29" text-anchor="end" class="dj">2.5</text>
<text x="395.5" y="1061" font-size="28.7" text-anchor="middle" class="dj">Wavelength (nm)</text>
<text transform="translate(78.7 791.5) rotate(-90)" font-size="28.6" text-anchor="middle" class="dj">Transmittance</text>
</g>
<g id="panel-c">
<line x1="177.3" y1="1387.63" x2="595.4" y2="1164.05" stroke="#000" stroke-width="2.2" stroke-dasharray="8.14 3.52"/>
<line x1="177.3" y1="1497.96" x2="595.4" y2="1388.08" stroke="#f00" stroke-width="2.2" stroke-dasharray="8.14 3.52"/>
<circle cx="177.3" cy="1384.3" r="7.9" fill="#000"/>
<circle cx="218.7" cy="1364.2" r="7.9" fill="#000"/>
<circle cx="260.4" cy="1343.7" r="7.9" fill="#000"/>
<circle cx="302.2" cy="1323.5" r="7.9" fill="#000"/>
<circle cx="343.9" cy="1298.1" r="7.9" fill="#000"/>
<circle cx="386.1" cy="1278" r="7.9" fill="#000"/>
<circle cx="428.1" cy="1257.5" r="7.9" fill="#000"/>
<circle cx="470.2" cy="1237.4" r="7.9" fill="#000"/>
<circle cx="511.6" cy="1203.2" r="7.9" fill="#000"/>
<circle cx="553.3" cy="1177.8" r="7.9" fill="#000"/>
<circle cx="595.4" cy="1168" r="7.9" fill="#000"/>
<circle cx="177.3" cy="1498.1" r="7.9" fill="#f00"/>
<circle cx="218.7" cy="1486" r="7.9" fill="#f00"/>
<circle cx="260.4" cy="1474.6" r="7.9" fill="#f00"/>
<circle cx="302.2" cy="1465.5" r="7.9" fill="#f00"/>
<circle cx="343.9" cy="1455.6" r="7.9" fill="#f00"/>
<circle cx="386.1" cy="1445.7" r="7.9" fill="#f00"/>
<circle cx="428.1" cy="1437.4" r="7.9" fill="#f00"/>
<circle cx="470.2" cy="1408.2" r="7.9" fill="#f00"/>
<circle cx="511.6" cy="1414.6" r="7.9" fill="#f00"/>
<circle cx="553.3" cy="1403.2" r="7.9" fill="#f00"/>
<circle cx="595.4" cy="1385" r="7.9" fill="#f00"/>
<path d="M139.9 1530 v-5 M259.64 1530 v-5 M379.38 1530 v-5 M499.12 1530 v-5 M618.86 1530 v-5 M139.9 1530 h5 M139.9 1479.2 h5 M139.9 1428.4 h5 M139.9 1377.6 h5 M139.9 1326.8 h5 M139.9 1276 h5 M139.9 1225.2 h5 M139.9 1174.4 h5 M139.9 1123.6 h5" stroke="#000" stroke-width="1.1" fill="none"/>
<rect x="139.9" y="1123.6" width="508.9" height="406.4" fill="none" stroke="#000" stroke-width="1.35"/>
<text x="139.9" y="1563.8" font-size="29" text-anchor="middle" class="dj">1.32</text>
<text x="259.64" y="1563.8" font-size="29" text-anchor="middle" class="dj">1.36</text>
<text x="379.38" y="1563.8" font-size="29" text-anchor="middle" class="dj">1.40</text>
<text x="499.12" y="1563.8" font-size="29" text-anchor="middle" class="dj">1.44</text>
<text x="618.86" y="1563.8" font-size="29" text-anchor="middle" class="dj">1.48</text>
<text x="135.1" y="1541.4" font-size="29" text-anchor="end" class="dj">740</text>
<text x="135.1" y="1490.6" font-size="29" text-anchor="end" class="dj">760</text>
<text x="135.1" y="1439.8" font-size="29" text-anchor="end" class="dj">780</text>
<text x="135.1" y="1389" font-size="29" text-anchor="end" class="dj">800</text>
<text x="135.1" y="1338.2" font-size="29" text-anchor="end" class="dj">820</text>
<text x="135.1" y="1287.4" font-size="29" text-anchor="end" class="dj">840</text>
<text x="135.1" y="1236.6" font-size="29" text-anchor="end" class="dj">860</text>
<text x="135.1" y="1185.8" font-size="29" text-anchor="end" class="dj">880</text>
<text x="135.1" y="1135" font-size="29" text-anchor="end" class="dj">900</text>
<text x="394.35" y="1597.4" font-size="28.7" text-anchor="middle" class="dj">Refractive Index (RIU)</text>
<text transform="translate(68.4 1326.8) rotate(-90)" font-size="28.6" text-anchor="middle" class="dj"><tspan font-style="italic">λ</tspan><tspan font-style="italic" font-size="20" dy="5.4">res</tspan><tspan dy="-5.4" xml:space="preserve"> (nm)</tspan></text>
<line x1="158.8" x2="201.6" y1="1152" y2="1152" stroke="#000" stroke-width="2.2" stroke-dasharray="8.14 3.52"/>
<line x1="158.8" x2="201.6" y1="1183.1" y2="1183.1" stroke="#f00" stroke-width="2.2" stroke-dasharray="8.14 3.52"/>
<circle cx="180.4" cy="1216.5" r="7.9" fill="#000"/>
<circle cx="180.4" cy="1248.4" r="7.9" fill="#f00"/>
<text x="219" y="1159.5" font-size="21.5" class="dj">Linear Fit</text>
<text x="219" y="1191" font-size="21.5" class="dj">Linear Fit</text>
<text x="219" y="1222.5" font-size="21.5" class="dj">Lattice mode</text>
<text x="219" y="1254.5" font-size="21.5" class="dj">LSPR</text>
<g fill="#000" font-size="20.8" class="dj">
<text x="409.3" y="1298.9">Δ<tspan font-style="italic">λ</tspan><tspan font-style="italic" font-size="15.3" dy="3.2">res</tspan></text>
<rect x="408.8" y="1306.1" width="51.9" height="1.5" stroke="none"/>
<text x="434.7" y="1323.5" text-anchor="middle">Δ<tspan font-style="italic">n</tspan></text>
<text x="467" y="1311.4">=<tspan dx="4.9" font-size="21.4">631.3</tspan><tspan font-style="italic" font-size="21.4">nm/RIU</tspan></text>
</g>
<g fill="#f00" font-size="20.8" class="dj rd">
<text x="409.3" y="1349.9">Δ<tspan font-style="italic">λ</tspan><tspan font-style="italic" font-size="15.3" dy="3.2">res</tspan></text>
<rect x="408.8" y="1357.1" width="51.9" height="1.5" stroke="none"/>
<text x="434.7" y="1374.5" text-anchor="middle">Δ<tspan font-style="italic">n</tspan></text>
<text x="467" y="1362.4">=<tspan dx="4.9" font-size="21.4">310.5</tspan><tspan font-style="italic" font-size="21.4">nm/RIU</tspan></text>
</g>
</g>
<text y="32" font-size="43" class="ar"><tspan x="-1.9">(</tspan><tspan x="11">a</tspan><tspan x="38">)</tspan></text>
<text y="568" font-size="43" class="ar"><tspan x="-1.9">(</tspan><tspan x="11.4">b</tspan><tspan x="38">)</tspan></text>
<text y="1105" font-size="43" class="ar"><tspan x="-1.9">(</tspan><tspan x="13.2">c</tspan><tspan x="36.9">)</tspan></text>
</svg>
</body>
</html>
